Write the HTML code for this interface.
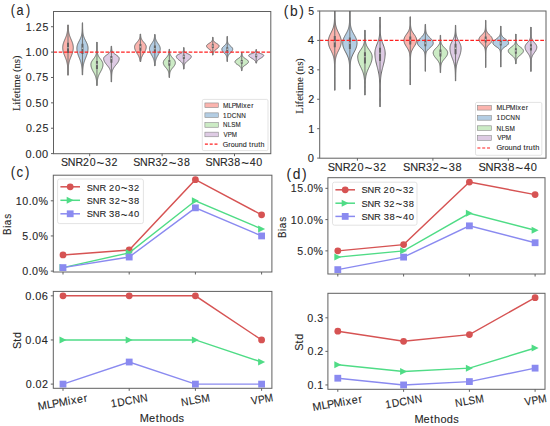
<!DOCTYPE html><html><head><meta charset="utf-8"><style>html,body{margin:0;padding:0;background:#fff;}svg{display:block;}</style></head><body><svg width="550" height="426" viewBox="0 0 550 426">
<rect width="550" height="426" fill="#ffffff"/>
<clipPath id="c53"><rect x="53.5" y="11.5" width="217.3" height="142.2"/></clipPath>
<g clip-path="url(#c53)">
<path d="M68.19,24.90 L68.20,25.53 L68.22,26.16 L68.24,26.79 L68.27,27.41 L68.30,28.04 L68.33,28.67 L68.38,29.30 L68.44,29.93 L68.50,30.56 L68.58,31.19 L68.67,31.82 L68.78,32.45 L68.91,33.07 L69.06,33.70 L69.22,34.33 L69.40,34.96 L69.60,35.59 L69.82,36.22 L70.05,36.85 L70.30,37.48 L70.56,38.10 L70.82,38.73 L71.09,39.36 L71.36,39.99 L71.63,40.62 L71.88,41.25 L72.13,41.88 L72.35,42.50 L72.56,43.13 L72.74,43.76 L72.90,44.39 L73.03,45.02 L73.13,45.65 L73.21,46.28 L73.26,46.91 L73.29,47.53 L73.28,48.16 L73.24,48.79 L73.18,49.42 L73.10,50.05 L72.99,50.68 L72.86,51.31 L72.71,51.94 L72.53,52.56 L72.33,53.19 L72.11,53.82 L71.88,54.45 L71.64,55.08 L71.38,55.71 L71.13,56.34 L70.87,56.97 L70.61,57.60 L70.36,58.22 L70.12,58.85 L69.90,59.48 L69.68,60.11 L69.48,60.74 L69.30,61.37 L69.14,62.00 L68.99,62.63 L68.86,63.25 L68.74,63.88 L68.64,64.51 L68.56,65.14 L68.49,65.77 L68.42,66.40 L68.37,67.03 L68.33,67.66 L68.29,68.28 L68.27,68.91 L68.24,69.54 L68.22,70.17 L68.21,70.80 L68.19,71.43 L68.18,72.06 L68.17,72.69 L68.16,73.31 L68.15,73.94 L68.15,74.57 L68.14,75.20 L67.86,75.20 L67.85,74.57 L67.85,73.94 L67.84,73.31 L67.83,72.69 L67.82,72.06 L67.81,71.43 L67.79,70.80 L67.78,70.17 L67.76,69.54 L67.73,68.91 L67.71,68.28 L67.67,67.66 L67.63,67.03 L67.58,66.40 L67.51,65.77 L67.44,65.14 L67.36,64.51 L67.26,63.88 L67.14,63.25 L67.01,62.63 L66.86,62.00 L66.70,61.37 L66.52,60.74 L66.32,60.11 L66.10,59.48 L65.88,58.85 L65.64,58.22 L65.39,57.60 L65.13,56.97 L64.87,56.34 L64.62,55.71 L64.36,55.08 L64.12,54.45 L63.89,53.82 L63.67,53.19 L63.47,52.56 L63.29,51.94 L63.14,51.31 L63.01,50.68 L62.90,50.05 L62.82,49.42 L62.76,48.79 L62.72,48.16 L62.71,47.53 L62.74,46.91 L62.79,46.28 L62.87,45.65 L62.97,45.02 L63.10,44.39 L63.26,43.76 L63.44,43.13 L63.65,42.50 L63.87,41.88 L64.12,41.25 L64.37,40.62 L64.64,39.99 L64.91,39.36 L65.18,38.73 L65.44,38.10 L65.70,37.48 L65.95,36.85 L66.18,36.22 L66.40,35.59 L66.60,34.96 L66.78,34.33 L66.94,33.70 L67.09,33.07 L67.22,32.45 L67.33,31.82 L67.42,31.19 L67.50,30.56 L67.56,29.93 L67.62,29.30 L67.67,28.67 L67.70,28.04 L67.73,27.41 L67.76,26.79 L67.78,26.16 L67.80,25.53 L67.81,24.90Z" fill="#fbb4ae" stroke="#6a6a6a" stroke-width="1.0"/>
<line x1="68.00" y1="24.90" x2="68.00" y2="75.20" stroke="#787878" stroke-width="1.05" />
<line x1="68.00" y1="42.68" x2="68.00" y2="52.94" stroke="#626262" stroke-width="2.0" />
<circle cx="68.00" cy="47.70" r="0.8" fill="#ffffff" fill-opacity="0.6"/>
<path d="M82.59,22.80 L82.59,23.45 L82.60,24.11 L82.61,24.76 L82.61,25.41 L82.62,26.06 L82.63,26.71 L82.64,27.37 L82.66,28.02 L82.67,28.67 L82.69,29.33 L82.72,29.98 L82.75,30.63 L82.79,31.28 L82.85,31.94 L82.91,32.59 L83.00,33.24 L83.10,33.89 L83.22,34.55 L83.37,35.20 L83.54,35.85 L83.74,36.50 L83.97,37.16 L84.22,37.81 L84.50,38.46 L84.80,39.11 L85.12,39.77 L85.45,40.42 L85.79,41.07 L86.12,41.72 L86.45,42.38 L86.75,43.03 L87.04,43.68 L87.29,44.33 L87.51,44.98 L87.70,45.64 L87.84,46.29 L87.95,46.94 L88.02,47.59 L88.06,48.25 L88.03,48.90 L87.99,49.55 L87.93,50.20 L87.84,50.86 L87.74,51.51 L87.60,52.16 L87.45,52.82 L87.27,53.47 L87.07,54.12 L86.85,54.77 L86.62,55.42 L86.37,56.08 L86.12,56.73 L85.85,57.38 L85.59,58.03 L85.33,58.69 L85.07,59.34 L84.83,59.99 L84.59,60.65 L84.36,61.30 L84.15,61.95 L83.95,62.60 L83.78,63.25 L83.61,63.91 L83.47,64.56 L83.34,65.21 L83.23,65.87 L83.13,66.52 L83.04,67.17 L82.97,67.82 L82.91,68.47 L82.85,69.13 L82.81,69.78 L82.77,70.43 L82.74,71.09 L82.72,71.74 L82.70,72.39 L82.68,73.04 L82.67,73.70 L82.65,74.35 L82.64,75.00 L82.28,75.00 L82.27,74.35 L82.25,73.70 L82.24,73.04 L82.22,72.39 L82.20,71.74 L82.18,71.09 L82.15,70.43 L82.11,69.78 L82.07,69.13 L82.01,68.47 L81.95,67.82 L81.88,67.17 L81.79,66.52 L81.69,65.87 L81.58,65.21 L81.45,64.56 L81.31,63.91 L81.14,63.25 L80.97,62.60 L80.77,61.95 L80.56,61.30 L80.33,60.65 L80.09,59.99 L79.85,59.34 L79.59,58.69 L79.33,58.03 L79.07,57.38 L78.80,56.73 L78.55,56.08 L78.30,55.42 L78.07,54.77 L77.85,54.12 L77.65,53.47 L77.47,52.82 L77.32,52.16 L77.18,51.51 L77.08,50.86 L76.99,50.20 L76.93,49.55 L76.89,48.90 L76.86,48.25 L76.90,47.59 L76.97,46.94 L77.08,46.29 L77.22,45.64 L77.41,44.98 L77.63,44.33 L77.88,43.68 L78.17,43.03 L78.47,42.38 L78.80,41.72 L79.13,41.07 L79.47,40.42 L79.80,39.77 L80.12,39.11 L80.42,38.46 L80.70,37.81 L80.95,37.16 L81.18,36.50 L81.38,35.85 L81.55,35.20 L81.70,34.55 L81.82,33.89 L81.92,33.24 L82.01,32.59 L82.07,31.94 L82.13,31.28 L82.17,30.63 L82.20,29.98 L82.23,29.33 L82.25,28.67 L82.26,28.02 L82.28,27.37 L82.29,26.71 L82.30,26.06 L82.31,25.41 L82.31,24.76 L82.32,24.11 L82.33,23.45 L82.33,22.80Z" fill="#b3cde3" stroke="#6a6a6a" stroke-width="1.0"/>
<line x1="82.46" y1="22.80" x2="82.46" y2="75.00" stroke="#787878" stroke-width="1.05" />
<line x1="82.46" y1="43.82" x2="82.46" y2="54.04" stroke="#626262" stroke-width="2.0" />
<circle cx="82.46" cy="48.30" r="0.8" fill="#ffffff" fill-opacity="0.6"/>
<path d="M97.04,42.10 L97.04,42.64 L97.05,43.19 L97.05,43.73 L97.06,44.27 L97.07,44.81 L97.07,45.36 L97.08,45.90 L97.09,46.44 L97.09,46.98 L97.10,47.52 L97.11,48.07 L97.12,48.61 L97.14,49.15 L97.16,49.70 L97.18,50.24 L97.21,50.78 L97.24,51.32 L97.29,51.87 L97.35,52.41 L97.43,52.95 L97.54,53.49 L97.67,54.03 L97.83,54.58 L98.03,55.12 L98.27,55.66 L98.54,56.20 L98.85,56.75 L99.20,57.29 L99.57,57.83 L99.97,58.38 L100.38,58.92 L100.80,59.46 L101.20,60.00 L101.58,60.55 L101.93,61.09 L102.23,61.63 L102.49,62.17 L102.69,62.72 L102.84,63.26 L102.93,63.80 L102.99,64.34 L102.96,64.89 L102.91,65.43 L102.84,65.97 L102.74,66.51 L102.62,67.06 L102.46,67.60 L102.28,68.14 L102.07,68.68 L101.84,69.22 L101.59,69.77 L101.32,70.31 L101.04,70.85 L100.75,71.39 L100.45,71.94 L100.16,72.48 L99.86,73.02 L99.58,73.56 L99.31,74.11 L99.05,74.65 L98.81,75.19 L98.59,75.73 L98.38,76.28 L98.20,76.82 L98.03,77.36 L97.89,77.91 L97.76,78.45 L97.65,78.99 L97.56,79.53 L97.48,80.08 L97.41,80.62 L97.35,81.16 L97.31,81.70 L97.27,82.25 L97.24,82.79 L97.21,83.33 L97.19,83.87 L97.17,84.41 L97.16,84.96 L97.14,85.50 L96.74,85.50 L96.72,84.96 L96.71,84.41 L96.69,83.87 L96.67,83.33 L96.64,82.79 L96.61,82.25 L96.57,81.70 L96.53,81.16 L96.47,80.62 L96.40,80.08 L96.32,79.53 L96.23,78.99 L96.12,78.45 L95.99,77.91 L95.85,77.36 L95.68,76.82 L95.50,76.28 L95.29,75.73 L95.07,75.19 L94.83,74.65 L94.57,74.11 L94.30,73.56 L94.02,73.02 L93.72,72.48 L93.43,71.94 L93.13,71.39 L92.84,70.85 L92.56,70.31 L92.29,69.77 L92.04,69.22 L91.81,68.68 L91.60,68.14 L91.42,67.60 L91.26,67.06 L91.14,66.51 L91.04,65.97 L90.97,65.43 L90.92,64.89 L90.89,64.34 L90.95,63.80 L91.04,63.26 L91.19,62.72 L91.39,62.17 L91.65,61.63 L91.95,61.09 L92.30,60.55 L92.68,60.00 L93.08,59.46 L93.50,58.92 L93.91,58.38 L94.31,57.83 L94.68,57.29 L95.03,56.75 L95.34,56.20 L95.61,55.66 L95.85,55.12 L96.05,54.58 L96.21,54.03 L96.34,53.49 L96.45,52.95 L96.53,52.41 L96.59,51.87 L96.64,51.32 L96.67,50.78 L96.70,50.24 L96.72,49.70 L96.74,49.15 L96.76,48.61 L96.77,48.07 L96.78,47.52 L96.79,46.98 L96.79,46.44 L96.80,45.90 L96.81,45.36 L96.81,44.81 L96.82,44.27 L96.83,43.73 L96.83,43.19 L96.84,42.64 L96.84,42.10Z" fill="#ccebc5" stroke="#6a6a6a" stroke-width="1.0"/>
<line x1="96.94" y1="42.10" x2="96.94" y2="85.50" stroke="#787878" stroke-width="1.05" />
<line x1="96.94" y1="61.06" x2="96.94" y2="69.07" stroke="#626262" stroke-width="2.0" />
<circle cx="96.94" cy="64.40" r="0.8" fill="#ffffff" fill-opacity="0.6"/>
<path d="M111.59,46.20 L111.60,46.65 L111.61,47.10 L111.63,47.54 L111.65,47.99 L111.68,48.44 L111.71,48.89 L111.76,49.33 L111.83,49.78 L111.92,50.23 L112.04,50.68 L112.21,51.12 L112.43,51.57 L112.71,52.02 L113.06,52.47 L113.49,52.91 L113.98,53.36 L114.54,53.81 L115.14,54.26 L115.78,54.70 L116.42,55.15 L117.04,55.60 L117.61,56.05 L118.11,56.49 L118.52,56.94 L118.84,57.39 L119.05,57.84 L119.17,58.28 L119.18,58.73 L119.13,59.18 L119.06,59.62 L118.95,60.07 L118.81,60.52 L118.64,60.97 L118.43,61.41 L118.20,61.86 L117.93,62.31 L117.63,62.76 L117.32,63.20 L116.98,63.65 L116.63,64.10 L116.27,64.55 L115.90,65.00 L115.53,65.44 L115.17,65.89 L114.82,66.34 L114.48,66.78 L114.16,67.23 L113.86,67.68 L113.58,68.13 L113.32,68.58 L113.08,69.02 L112.87,69.47 L112.68,69.92 L112.52,70.37 L112.37,70.81 L112.25,71.26 L112.14,71.71 L112.05,72.16 L111.97,72.60 L111.91,73.05 L111.85,73.50 L111.81,73.94 L111.77,74.39 L111.74,74.84 L111.71,75.29 L111.69,75.73 L111.67,76.18 L111.66,76.63 L111.65,77.08 L111.63,77.53 L111.62,77.97 L111.62,78.42 L111.61,78.87 L111.60,79.31 L111.59,79.76 L111.59,80.21 L111.58,80.66 L111.57,81.10 L111.57,81.55 L111.56,82.00 L111.24,82.00 L111.23,81.55 L111.23,81.10 L111.22,80.66 L111.21,80.21 L111.21,79.76 L111.20,79.31 L111.19,78.87 L111.18,78.42 L111.18,77.97 L111.17,77.53 L111.15,77.08 L111.14,76.63 L111.13,76.18 L111.11,75.73 L111.09,75.29 L111.06,74.84 L111.03,74.39 L110.99,73.94 L110.95,73.50 L110.89,73.05 L110.83,72.60 L110.75,72.16 L110.66,71.71 L110.55,71.26 L110.43,70.81 L110.28,70.37 L110.12,69.92 L109.93,69.47 L109.72,69.02 L109.48,68.58 L109.22,68.13 L108.94,67.68 L108.64,67.23 L108.32,66.78 L107.98,66.34 L107.63,65.89 L107.27,65.44 L106.90,65.00 L106.53,64.55 L106.17,64.10 L105.82,63.65 L105.48,63.20 L105.17,62.76 L104.87,62.31 L104.60,61.86 L104.37,61.41 L104.16,60.97 L103.99,60.52 L103.85,60.07 L103.74,59.62 L103.67,59.18 L103.62,58.73 L103.63,58.28 L103.75,57.84 L103.96,57.39 L104.28,56.94 L104.69,56.49 L105.19,56.05 L105.76,55.60 L106.38,55.15 L107.02,54.70 L107.66,54.26 L108.26,53.81 L108.82,53.36 L109.31,52.91 L109.74,52.47 L110.09,52.02 L110.37,51.57 L110.59,51.12 L110.76,50.68 L110.88,50.23 L110.97,49.78 L111.04,49.33 L111.09,48.89 L111.12,48.44 L111.15,47.99 L111.17,47.54 L111.19,47.10 L111.20,46.65 L111.21,46.20Z" fill="#decbe4" stroke="#6a6a6a" stroke-width="1.0"/>
<line x1="111.40" y1="46.20" x2="111.40" y2="82.00" stroke="#787878" stroke-width="1.05" />
<line x1="111.40" y1="56.07" x2="111.40" y2="62.76" stroke="#626262" stroke-width="2.0" />
<circle cx="111.40" cy="58.50" r="0.8" fill="#ffffff" fill-opacity="0.6"/>
<path d="M140.60,34.00 L140.61,34.34 L140.63,34.69 L140.65,35.03 L140.67,35.38 L140.70,35.72 L140.73,36.06 L140.77,36.41 L140.82,36.75 L140.89,37.09 L140.96,37.44 L141.05,37.78 L141.15,38.12 L141.27,38.47 L141.41,38.81 L141.57,39.16 L141.74,39.50 L141.94,39.84 L142.16,40.19 L142.40,40.53 L142.65,40.88 L142.92,41.22 L143.20,41.56 L143.49,41.91 L143.78,42.25 L144.08,42.59 L144.37,42.94 L144.65,43.28 L144.91,43.62 L145.16,43.97 L145.39,44.31 L145.59,44.66 L145.77,45.00 L145.92,45.34 L146.04,45.69 L146.13,46.03 L146.19,46.38 L146.24,46.72 L146.24,47.06 L146.22,47.41 L146.18,47.75 L146.13,48.09 L146.07,48.44 L145.99,48.78 L145.89,49.12 L145.78,49.47 L145.66,49.81 L145.52,50.16 L145.37,50.50 L145.20,50.84 L145.03,51.19 L144.84,51.53 L144.64,51.88 L144.44,52.22 L144.23,52.56 L144.02,52.91 L143.81,53.25 L143.59,53.59 L143.38,53.94 L143.17,54.28 L142.96,54.62 L142.77,54.97 L142.57,55.31 L142.39,55.66 L142.22,56.00 L142.05,56.34 L141.90,56.69 L141.76,57.03 L141.62,57.38 L141.50,57.72 L141.39,58.06 L141.29,58.41 L141.20,58.75 L141.12,59.09 L141.04,59.44 L140.98,59.78 L140.92,60.12 L140.87,60.47 L140.83,60.81 L140.79,61.16 L140.76,61.50 L140.04,61.50 L140.01,61.16 L139.97,60.81 L139.93,60.47 L139.88,60.12 L139.82,59.78 L139.76,59.44 L139.68,59.09 L139.60,58.75 L139.51,58.41 L139.41,58.06 L139.30,57.72 L139.18,57.38 L139.04,57.03 L138.90,56.69 L138.75,56.34 L138.58,56.00 L138.41,55.66 L138.23,55.31 L138.03,54.97 L137.84,54.62 L137.63,54.28 L137.42,53.94 L137.21,53.59 L136.99,53.25 L136.78,52.91 L136.57,52.56 L136.36,52.22 L136.16,51.88 L135.96,51.53 L135.77,51.19 L135.60,50.84 L135.43,50.50 L135.28,50.16 L135.14,49.81 L135.02,49.47 L134.91,49.12 L134.81,48.78 L134.73,48.44 L134.67,48.09 L134.62,47.75 L134.58,47.41 L134.56,47.06 L134.56,46.72 L134.61,46.38 L134.67,46.03 L134.76,45.69 L134.88,45.34 L135.03,45.00 L135.21,44.66 L135.41,44.31 L135.64,43.97 L135.89,43.62 L136.15,43.28 L136.43,42.94 L136.72,42.59 L137.02,42.25 L137.31,41.91 L137.60,41.56 L137.88,41.22 L138.15,40.88 L138.40,40.53 L138.64,40.19 L138.86,39.84 L139.06,39.50 L139.23,39.16 L139.39,38.81 L139.53,38.47 L139.65,38.12 L139.75,37.78 L139.84,37.44 L139.91,37.09 L139.98,36.75 L140.03,36.41 L140.07,36.06 L140.10,35.72 L140.13,35.38 L140.15,35.03 L140.17,34.69 L140.19,34.34 L140.20,34.00Z" fill="#fbb4ae" stroke="#6a6a6a" stroke-width="1.0"/>
<line x1="140.40" y1="34.00" x2="140.40" y2="61.50" stroke="#787878" stroke-width="1.05" />
<line x1="140.40" y1="44.05" x2="140.40" y2="50.81" stroke="#626262" stroke-width="2.0" />
<circle cx="140.40" cy="46.90" r="0.8" fill="#ffffff" fill-opacity="0.6"/>
<path d="M155.06,34.50 L155.08,34.89 L155.10,35.28 L155.12,35.67 L155.15,36.06 L155.18,36.46 L155.23,36.85 L155.28,37.24 L155.34,37.63 L155.41,38.02 L155.50,38.41 L155.60,38.80 L155.71,39.20 L155.84,39.59 L155.99,39.98 L156.16,40.37 L156.35,40.76 L156.55,41.15 L156.77,41.54 L157.00,41.93 L157.25,42.33 L157.51,42.72 L157.77,43.11 L158.04,43.50 L158.31,43.89 L158.57,44.28 L158.82,44.67 L159.06,45.06 L159.28,45.45 L159.49,45.85 L159.67,46.24 L159.83,46.63 L159.96,47.02 L160.07,47.41 L160.15,47.80 L160.21,48.19 L160.25,48.59 L160.25,48.98 L160.22,49.37 L160.18,49.76 L160.13,50.15 L160.05,50.54 L159.96,50.93 L159.85,51.32 L159.73,51.71 L159.58,52.11 L159.42,52.50 L159.25,52.89 L159.06,53.28 L158.86,53.67 L158.65,54.06 L158.44,54.45 L158.22,54.84 L158.00,55.24 L157.77,55.63 L157.55,56.02 L157.34,56.41 L157.13,56.80 L156.93,57.19 L156.73,57.58 L156.55,57.97 L156.38,58.37 L156.22,58.76 L156.08,59.15 L155.94,59.54 L155.82,59.93 L155.71,60.32 L155.61,60.71 L155.53,61.10 L155.45,61.50 L155.39,61.89 L155.33,62.28 L155.28,62.67 L155.23,63.06 L155.20,63.45 L155.17,63.84 L155.14,64.23 L155.12,64.63 L155.10,65.02 L155.08,65.41 L155.07,65.80 L154.65,65.80 L154.64,65.41 L154.62,65.02 L154.60,64.63 L154.58,64.23 L154.55,63.84 L154.52,63.45 L154.49,63.06 L154.44,62.67 L154.39,62.28 L154.33,61.89 L154.27,61.50 L154.19,61.10 L154.11,60.71 L154.01,60.32 L153.90,59.93 L153.78,59.54 L153.64,59.15 L153.50,58.76 L153.34,58.37 L153.17,57.97 L152.99,57.58 L152.79,57.19 L152.59,56.80 L152.38,56.41 L152.17,56.02 L151.95,55.63 L151.72,55.24 L151.50,54.84 L151.28,54.45 L151.07,54.06 L150.86,53.67 L150.66,53.28 L150.47,52.89 L150.30,52.50 L150.14,52.11 L149.99,51.71 L149.87,51.32 L149.76,50.93 L149.67,50.54 L149.59,50.15 L149.54,49.76 L149.50,49.37 L149.47,48.98 L149.47,48.59 L149.51,48.19 L149.57,47.80 L149.65,47.41 L149.76,47.02 L149.89,46.63 L150.05,46.24 L150.23,45.85 L150.44,45.45 L150.66,45.06 L150.90,44.67 L151.15,44.28 L151.41,43.89 L151.68,43.50 L151.95,43.11 L152.21,42.72 L152.47,42.33 L152.72,41.93 L152.95,41.54 L153.17,41.15 L153.37,40.76 L153.56,40.37 L153.73,39.98 L153.88,39.59 L154.01,39.20 L154.12,38.80 L154.22,38.41 L154.31,38.02 L154.38,37.63 L154.44,37.24 L154.49,36.85 L154.54,36.46 L154.57,36.06 L154.60,35.67 L154.62,35.28 L154.64,34.89 L154.66,34.50Z" fill="#b3cde3" stroke="#6a6a6a" stroke-width="1.0"/>
<line x1="154.86" y1="34.50" x2="154.86" y2="65.80" stroke="#787878" stroke-width="1.05" />
<line x1="154.86" y1="45.57" x2="154.86" y2="52.68" stroke="#626262" stroke-width="2.0" />
<circle cx="154.86" cy="48.80" r="0.8" fill="#ffffff" fill-opacity="0.6"/>
<path d="M169.52,49.30 L169.53,49.65 L169.54,50.00 L169.56,50.36 L169.57,50.71 L169.59,51.06 L169.62,51.41 L169.65,51.77 L169.69,52.12 L169.73,52.47 L169.79,52.82 L169.86,53.18 L169.94,53.53 L170.04,53.88 L170.16,54.23 L170.29,54.59 L170.45,54.94 L170.63,55.29 L170.84,55.64 L171.07,56.00 L171.31,56.35 L171.58,56.70 L171.87,57.05 L172.17,57.41 L172.49,57.76 L172.80,58.11 L173.12,58.46 L173.44,58.82 L173.74,59.17 L174.03,59.52 L174.30,59.88 L174.54,60.23 L174.76,60.58 L174.94,60.93 L175.09,61.28 L175.21,61.64 L175.30,61.99 L175.35,62.34 L175.39,62.70 L175.36,63.05 L175.31,63.40 L175.23,63.75 L175.13,64.11 L175.00,64.46 L174.85,64.81 L174.66,65.16 L174.45,65.52 L174.22,65.87 L173.97,66.22 L173.70,66.57 L173.41,66.92 L173.12,67.28 L172.83,67.63 L172.53,67.98 L172.24,68.34 L171.96,68.69 L171.69,69.04 L171.43,69.39 L171.19,69.75 L170.97,70.10 L170.77,70.45 L170.59,70.80 L170.42,71.16 L170.28,71.51 L170.15,71.86 L170.04,72.21 L169.95,72.56 L169.87,72.92 L169.81,73.27 L169.75,73.62 L169.70,73.97 L169.67,74.33 L169.63,74.68 L169.61,75.03 L169.59,75.38 L169.57,75.74 L169.55,76.09 L169.54,76.44 L169.53,76.80 L169.52,77.15 L169.51,77.50 L169.17,77.50 L169.16,77.15 L169.15,76.80 L169.14,76.44 L169.13,76.09 L169.11,75.74 L169.09,75.38 L169.07,75.03 L169.05,74.68 L169.01,74.33 L168.98,73.97 L168.93,73.62 L168.87,73.27 L168.81,72.92 L168.73,72.56 L168.64,72.21 L168.53,71.86 L168.40,71.51 L168.26,71.16 L168.09,70.80 L167.91,70.45 L167.71,70.10 L167.49,69.75 L167.25,69.39 L166.99,69.04 L166.72,68.69 L166.44,68.34 L166.15,67.98 L165.85,67.63 L165.56,67.28 L165.27,66.92 L164.98,66.57 L164.71,66.22 L164.46,65.87 L164.23,65.52 L164.02,65.16 L163.83,64.81 L163.68,64.46 L163.55,64.11 L163.45,63.75 L163.37,63.40 L163.32,63.05 L163.29,62.70 L163.33,62.34 L163.38,61.99 L163.47,61.64 L163.59,61.28 L163.74,60.93 L163.92,60.58 L164.14,60.23 L164.38,59.88 L164.65,59.52 L164.94,59.17 L165.24,58.82 L165.56,58.46 L165.88,58.11 L166.19,57.76 L166.51,57.41 L166.81,57.05 L167.10,56.70 L167.37,56.35 L167.61,56.00 L167.84,55.64 L168.05,55.29 L168.23,54.94 L168.39,54.59 L168.52,54.23 L168.64,53.88 L168.74,53.53 L168.82,53.18 L168.89,52.82 L168.95,52.47 L168.99,52.12 L169.03,51.77 L169.06,51.41 L169.09,51.06 L169.11,50.71 L169.12,50.36 L169.14,50.00 L169.15,49.65 L169.16,49.30Z" fill="#ccebc5" stroke="#6a6a6a" stroke-width="1.0"/>
<line x1="169.34" y1="49.30" x2="169.34" y2="77.50" stroke="#787878" stroke-width="1.05" />
<line x1="169.34" y1="59.89" x2="169.34" y2="65.74" stroke="#626262" stroke-width="2.0" />
<circle cx="169.34" cy="62.70" r="0.8" fill="#ffffff" fill-opacity="0.6"/>
<path d="M183.96,47.60 L183.97,47.87 L183.98,48.14 L183.99,48.41 L184.00,48.68 L184.01,48.94 L184.03,49.21 L184.04,49.48 L184.07,49.75 L184.10,50.02 L184.14,50.29 L184.19,50.56 L184.27,50.83 L184.36,51.09 L184.49,51.36 L184.66,51.63 L184.87,51.90 L185.13,52.17 L185.44,52.44 L185.82,52.71 L186.24,52.98 L186.72,53.24 L187.24,53.51 L187.79,53.78 L188.35,54.05 L188.90,54.32 L189.43,54.59 L189.91,54.86 L190.33,55.12 L190.68,55.39 L190.95,55.66 L191.14,55.93 L191.25,56.20 L191.29,56.47 L191.25,56.74 L191.19,57.01 L191.10,57.27 L190.98,57.54 L190.84,57.81 L190.66,58.08 L190.45,58.35 L190.22,58.62 L189.96,58.89 L189.68,59.16 L189.37,59.42 L189.05,59.69 L188.72,59.96 L188.39,60.23 L188.05,60.50 L187.71,60.77 L187.37,61.04 L187.05,61.31 L186.73,61.57 L186.44,61.84 L186.16,62.11 L185.90,62.38 L185.66,62.65 L185.44,62.92 L185.24,63.19 L185.06,63.46 L184.90,63.72 L184.76,63.99 L184.64,64.26 L184.54,64.53 L184.45,64.80 L184.37,65.07 L184.31,65.34 L184.26,65.61 L184.21,65.88 L184.17,66.14 L184.14,66.41 L184.12,66.68 L184.09,66.95 L184.07,67.22 L184.06,67.49 L184.05,67.76 L184.03,68.02 L184.02,68.29 L184.01,68.56 L184.01,68.83 L184.00,69.10 L183.60,69.10 L183.59,68.83 L183.59,68.56 L183.58,68.29 L183.57,68.02 L183.55,67.76 L183.54,67.49 L183.53,67.22 L183.51,66.95 L183.48,66.68 L183.46,66.41 L183.43,66.14 L183.39,65.88 L183.34,65.61 L183.29,65.34 L183.23,65.07 L183.15,64.80 L183.06,64.53 L182.96,64.26 L182.84,63.99 L182.70,63.72 L182.54,63.46 L182.36,63.19 L182.16,62.92 L181.94,62.65 L181.70,62.38 L181.44,62.11 L181.16,61.84 L180.87,61.57 L180.55,61.31 L180.23,61.04 L179.89,60.77 L179.55,60.50 L179.21,60.23 L178.88,59.96 L178.55,59.69 L178.23,59.42 L177.92,59.16 L177.64,58.89 L177.38,58.62 L177.15,58.35 L176.94,58.08 L176.76,57.81 L176.62,57.54 L176.50,57.27 L176.41,57.01 L176.35,56.74 L176.31,56.47 L176.35,56.20 L176.46,55.93 L176.65,55.66 L176.92,55.39 L177.27,55.12 L177.69,54.86 L178.17,54.59 L178.70,54.32 L179.25,54.05 L179.81,53.78 L180.36,53.51 L180.88,53.24 L181.36,52.98 L181.78,52.71 L182.16,52.44 L182.47,52.17 L182.73,51.90 L182.94,51.63 L183.11,51.36 L183.24,51.09 L183.33,50.83 L183.41,50.56 L183.46,50.29 L183.50,50.02 L183.53,49.75 L183.56,49.48 L183.57,49.21 L183.59,48.94 L183.60,48.68 L183.61,48.41 L183.62,48.14 L183.63,47.87 L183.64,47.60Z" fill="#decbe4" stroke="#6a6a6a" stroke-width="1.0"/>
<line x1="183.80" y1="47.60" x2="183.80" y2="69.10" stroke="#787878" stroke-width="1.05" />
<line x1="183.80" y1="54.80" x2="183.80" y2="59.02" stroke="#626262" stroke-width="2.0" />
<circle cx="183.80" cy="56.40" r="0.8" fill="#ffffff" fill-opacity="0.6"/>
<path d="M212.95,37.20 L212.96,37.42 L212.97,37.65 L212.98,37.87 L212.99,38.10 L213.00,38.32 L213.01,38.54 L213.03,38.77 L213.05,38.99 L213.07,39.21 L213.10,39.44 L213.14,39.66 L213.18,39.89 L213.24,40.11 L213.31,40.33 L213.40,40.56 L213.51,40.78 L213.64,41.00 L213.79,41.23 L213.97,41.45 L214.18,41.68 L214.42,41.90 L214.68,42.12 L214.97,42.35 L215.28,42.57 L215.61,42.79 L215.96,43.02 L216.31,43.24 L216.67,43.47 L217.03,43.69 L217.37,43.91 L217.69,44.14 L217.99,44.36 L218.26,44.58 L218.49,44.81 L218.69,45.03 L218.84,45.26 L218.96,45.48 L219.04,45.70 L219.09,45.93 L219.08,46.15 L219.04,46.37 L218.97,46.60 L218.87,46.82 L218.75,47.05 L218.60,47.27 L218.42,47.49 L218.22,47.72 L217.99,47.94 L217.74,48.16 L217.47,48.39 L217.18,48.61 L216.89,48.84 L216.59,49.06 L216.28,49.28 L215.98,49.51 L215.69,49.73 L215.40,49.95 L215.13,50.18 L214.87,50.40 L214.63,50.62 L214.41,50.85 L214.21,51.07 L214.03,51.30 L213.87,51.52 L213.73,51.74 L213.61,51.97 L213.50,52.19 L213.41,52.41 L213.33,52.64 L213.27,52.86 L213.21,53.09 L213.17,53.31 L213.13,53.53 L213.10,53.76 L213.07,53.98 L213.05,54.20 L213.04,54.43 L213.02,54.65 L213.01,54.88 L213.00,55.10 L212.60,55.10 L212.59,54.88 L212.58,54.65 L212.56,54.43 L212.55,54.20 L212.53,53.98 L212.50,53.76 L212.47,53.53 L212.43,53.31 L212.39,53.09 L212.33,52.86 L212.27,52.64 L212.19,52.41 L212.10,52.19 L211.99,51.97 L211.87,51.74 L211.73,51.52 L211.57,51.30 L211.39,51.07 L211.19,50.85 L210.97,50.62 L210.73,50.40 L210.47,50.18 L210.20,49.95 L209.91,49.73 L209.62,49.51 L209.32,49.28 L209.01,49.06 L208.71,48.84 L208.42,48.61 L208.13,48.39 L207.86,48.16 L207.61,47.94 L207.38,47.72 L207.18,47.49 L207.00,47.27 L206.85,47.05 L206.73,46.82 L206.63,46.60 L206.56,46.37 L206.52,46.15 L206.51,45.93 L206.56,45.70 L206.64,45.48 L206.76,45.26 L206.91,45.03 L207.11,44.81 L207.34,44.58 L207.61,44.36 L207.91,44.14 L208.23,43.91 L208.57,43.69 L208.93,43.47 L209.29,43.24 L209.64,43.02 L209.99,42.79 L210.32,42.57 L210.63,42.35 L210.92,42.12 L211.18,41.90 L211.42,41.68 L211.63,41.45 L211.81,41.23 L211.96,41.00 L212.09,40.78 L212.20,40.56 L212.29,40.33 L212.36,40.11 L212.42,39.89 L212.46,39.66 L212.50,39.44 L212.53,39.21 L212.55,38.99 L212.57,38.77 L212.59,38.54 L212.60,38.32 L212.61,38.10 L212.62,37.87 L212.63,37.65 L212.64,37.42 L212.65,37.20Z" fill="#fbb4ae" stroke="#6a6a6a" stroke-width="1.0"/>
<line x1="212.80" y1="37.20" x2="212.80" y2="55.10" stroke="#787878" stroke-width="1.05" />
<line x1="212.80" y1="44.33" x2="212.80" y2="47.98" stroke="#626262" stroke-width="2.0" />
<circle cx="212.80" cy="46.00" r="0.8" fill="#ffffff" fill-opacity="0.6"/>
<path d="M227.36,36.40 L227.36,36.71 L227.37,37.03 L227.37,37.34 L227.38,37.66 L227.39,37.97 L227.39,38.28 L227.40,38.60 L227.41,38.91 L227.41,39.22 L227.42,39.54 L227.43,39.85 L227.45,40.16 L227.47,40.48 L227.49,40.79 L227.52,41.11 L227.55,41.42 L227.60,41.73 L227.66,42.05 L227.74,42.36 L227.83,42.67 L227.95,42.99 L228.10,43.30 L228.28,43.62 L228.48,43.93 L228.72,44.24 L228.99,44.56 L229.28,44.87 L229.61,45.19 L229.95,45.50 L230.30,45.81 L230.65,46.13 L231.00,46.44 L231.33,46.75 L231.64,47.07 L231.92,47.38 L232.16,47.70 L232.35,48.01 L232.50,48.32 L232.61,48.64 L232.68,48.95 L232.70,49.26 L232.66,49.58 L232.60,49.89 L232.50,50.20 L232.37,50.52 L232.20,50.83 L232.00,51.15 L231.77,51.46 L231.51,51.77 L231.23,52.09 L230.93,52.40 L230.62,52.72 L230.31,53.03 L230.00,53.34 L229.70,53.66 L229.41,53.97 L229.14,54.28 L228.89,54.60 L228.66,54.91 L228.45,55.22 L228.27,55.54 L228.12,55.85 L227.98,56.17 L227.87,56.48 L227.78,56.79 L227.70,57.11 L227.64,57.42 L227.59,57.73 L227.55,58.05 L227.52,58.36 L227.49,58.68 L227.47,58.99 L227.46,59.30 L227.44,59.62 L227.43,59.93 L227.42,60.25 L227.41,60.56 L227.41,60.87 L227.40,61.19 L227.39,61.50 L227.13,61.50 L227.12,61.19 L227.11,60.87 L227.11,60.56 L227.10,60.25 L227.09,59.93 L227.08,59.62 L227.06,59.30 L227.05,58.99 L227.03,58.68 L227.00,58.36 L226.97,58.05 L226.93,57.73 L226.88,57.42 L226.82,57.11 L226.74,56.79 L226.65,56.48 L226.54,56.17 L226.40,55.85 L226.25,55.54 L226.07,55.22 L225.86,54.91 L225.63,54.60 L225.38,54.28 L225.11,53.97 L224.82,53.66 L224.52,53.34 L224.21,53.03 L223.90,52.72 L223.59,52.40 L223.29,52.09 L223.01,51.77 L222.75,51.46 L222.52,51.15 L222.32,50.83 L222.15,50.52 L222.02,50.20 L221.92,49.89 L221.86,49.58 L221.82,49.26 L221.84,48.95 L221.91,48.64 L222.02,48.32 L222.17,48.01 L222.36,47.70 L222.60,47.38 L222.88,47.07 L223.19,46.75 L223.52,46.44 L223.87,46.13 L224.22,45.81 L224.57,45.50 L224.91,45.19 L225.24,44.87 L225.53,44.56 L225.80,44.24 L226.04,43.93 L226.24,43.62 L226.42,43.30 L226.57,42.99 L226.69,42.67 L226.78,42.36 L226.86,42.05 L226.92,41.73 L226.97,41.42 L227.00,41.11 L227.03,40.79 L227.05,40.48 L227.07,40.16 L227.09,39.85 L227.10,39.54 L227.11,39.22 L227.11,38.91 L227.12,38.60 L227.13,38.28 L227.13,37.97 L227.14,37.66 L227.15,37.34 L227.15,37.03 L227.16,36.71 L227.16,36.40Z" fill="#b3cde3" stroke="#6a6a6a" stroke-width="1.0"/>
<line x1="227.26" y1="36.40" x2="227.26" y2="61.50" stroke="#787878" stroke-width="1.05" />
<line x1="227.26" y1="47.22" x2="227.26" y2="51.44" stroke="#626262" stroke-width="2.0" />
<circle cx="227.26" cy="49.20" r="0.8" fill="#ffffff" fill-opacity="0.6"/>
<path d="M241.93,52.60 L241.93,52.83 L241.94,53.05 L241.96,53.28 L241.97,53.51 L241.98,53.73 L242.00,53.96 L242.03,54.18 L242.05,54.41 L242.09,54.64 L242.13,54.86 L242.18,55.09 L242.24,55.32 L242.32,55.54 L242.41,55.77 L242.52,55.99 L242.64,56.22 L242.79,56.45 L242.96,56.67 L243.16,56.90 L243.38,57.12 L243.62,57.35 L243.89,57.58 L244.17,57.80 L244.48,58.03 L244.81,58.26 L245.14,58.48 L245.49,58.71 L245.84,58.94 L246.18,59.16 L246.52,59.39 L246.84,59.61 L247.14,59.84 L247.42,60.07 L247.67,60.29 L247.89,60.52 L248.07,60.75 L248.22,60.97 L248.33,61.20 L248.41,61.42 L248.47,61.65 L248.48,61.88 L248.44,62.10 L248.37,62.33 L248.27,62.56 L248.13,62.78 L247.97,63.01 L247.77,63.23 L247.54,63.46 L247.28,63.69 L247.00,63.91 L246.69,64.14 L246.37,64.37 L246.03,64.59 L245.69,64.82 L245.35,65.04 L245.02,65.27 L244.69,65.50 L244.38,65.72 L244.08,65.95 L243.80,66.17 L243.55,66.40 L243.32,66.63 L243.11,66.85 L242.92,67.08 L242.76,67.31 L242.62,67.53 L242.50,67.76 L242.39,67.98 L242.31,68.21 L242.24,68.44 L242.18,68.66 L242.13,68.89 L242.09,69.12 L242.05,69.34 L242.03,69.57 L242.00,69.80 L241.99,70.02 L241.97,70.25 L241.96,70.47 L241.95,70.70 L241.53,70.70 L241.52,70.47 L241.51,70.25 L241.49,70.02 L241.48,69.80 L241.45,69.57 L241.43,69.34 L241.39,69.12 L241.35,68.89 L241.30,68.66 L241.24,68.44 L241.17,68.21 L241.09,67.98 L240.98,67.76 L240.86,67.53 L240.72,67.31 L240.56,67.08 L240.37,66.85 L240.16,66.63 L239.93,66.40 L239.68,66.17 L239.40,65.95 L239.10,65.72 L238.79,65.50 L238.46,65.27 L238.13,65.04 L237.79,64.82 L237.45,64.59 L237.11,64.37 L236.79,64.14 L236.48,63.91 L236.20,63.69 L235.94,63.46 L235.71,63.23 L235.51,63.01 L235.35,62.78 L235.21,62.56 L235.11,62.33 L235.04,62.10 L235.00,61.88 L235.01,61.65 L235.07,61.42 L235.15,61.20 L235.26,60.97 L235.41,60.75 L235.59,60.52 L235.81,60.29 L236.06,60.07 L236.34,59.84 L236.64,59.61 L236.96,59.39 L237.30,59.16 L237.64,58.94 L237.99,58.71 L238.34,58.48 L238.67,58.26 L239.00,58.03 L239.31,57.80 L239.59,57.58 L239.86,57.35 L240.10,57.12 L240.32,56.90 L240.52,56.67 L240.69,56.45 L240.84,56.22 L240.96,55.99 L241.07,55.77 L241.16,55.54 L241.24,55.32 L241.30,55.09 L241.35,54.86 L241.39,54.64 L241.43,54.41 L241.45,54.18 L241.48,53.96 L241.50,53.73 L241.51,53.51 L241.52,53.28 L241.54,53.05 L241.55,52.83 L241.55,52.60Z" fill="#ccebc5" stroke="#6a6a6a" stroke-width="1.0"/>
<line x1="241.74" y1="52.60" x2="241.74" y2="70.70" stroke="#787878" stroke-width="1.05" />
<line x1="241.74" y1="59.90" x2="241.74" y2="63.74" stroke="#626262" stroke-width="2.0" />
<circle cx="241.74" cy="61.80" r="0.8" fill="#ffffff" fill-opacity="0.6"/>
<path d="M256.39,49.60 L256.40,49.77 L256.41,49.94 L256.42,50.11 L256.44,50.27 L256.45,50.44 L256.48,50.61 L256.51,50.78 L256.54,50.95 L256.59,51.12 L256.65,51.29 L256.73,51.46 L256.83,51.62 L256.96,51.79 L257.13,51.96 L257.32,52.13 L257.56,52.30 L257.84,52.47 L258.17,52.64 L258.53,52.81 L258.94,52.98 L259.38,53.14 L259.85,53.31 L260.34,53.48 L260.83,53.65 L261.32,53.82 L261.78,53.99 L262.21,54.16 L262.60,54.33 L262.93,54.49 L263.20,54.66 L263.42,54.83 L263.57,55.00 L263.66,55.17 L263.69,55.34 L263.66,55.51 L263.62,55.68 L263.56,55.84 L263.47,56.01 L263.37,56.18 L263.25,56.35 L263.11,56.52 L262.94,56.69 L262.76,56.86 L262.55,57.02 L262.33,57.19 L262.10,57.36 L261.85,57.53 L261.59,57.70 L261.31,57.87 L261.04,58.04 L260.75,58.21 L260.47,58.38 L260.19,58.54 L259.91,58.71 L259.63,58.88 L259.36,59.05 L259.11,59.22 L258.86,59.39 L258.62,59.56 L258.40,59.73 L258.19,59.89 L258.00,60.06 L257.82,60.23 L257.65,60.40 L257.50,60.57 L257.36,60.74 L257.24,60.91 L257.13,61.08 L257.03,61.24 L256.95,61.41 L256.87,61.58 L256.80,61.75 L256.75,61.92 L256.70,62.09 L256.65,62.26 L256.61,62.42 L256.58,62.59 L256.55,62.76 L256.53,62.93 L256.51,63.10 L255.89,63.10 L255.87,62.93 L255.85,62.76 L255.82,62.59 L255.79,62.42 L255.75,62.26 L255.70,62.09 L255.65,61.92 L255.60,61.75 L255.53,61.58 L255.45,61.41 L255.37,61.24 L255.27,61.08 L255.16,60.91 L255.04,60.74 L254.90,60.57 L254.75,60.40 L254.58,60.23 L254.40,60.06 L254.21,59.89 L254.00,59.73 L253.78,59.56 L253.54,59.39 L253.29,59.22 L253.04,59.05 L252.77,58.88 L252.49,58.71 L252.21,58.54 L251.93,58.38 L251.65,58.21 L251.36,58.04 L251.09,57.87 L250.81,57.70 L250.55,57.53 L250.30,57.36 L250.07,57.19 L249.85,57.02 L249.64,56.86 L249.46,56.69 L249.29,56.52 L249.15,56.35 L249.03,56.18 L248.93,56.01 L248.84,55.84 L248.78,55.68 L248.74,55.51 L248.71,55.34 L248.74,55.17 L248.83,55.00 L248.98,54.83 L249.20,54.66 L249.47,54.49 L249.80,54.33 L250.19,54.16 L250.62,53.99 L251.08,53.82 L251.57,53.65 L252.06,53.48 L252.55,53.31 L253.02,53.14 L253.46,52.98 L253.87,52.81 L254.23,52.64 L254.56,52.47 L254.84,52.30 L255.08,52.13 L255.27,51.96 L255.44,51.79 L255.57,51.62 L255.67,51.46 L255.75,51.29 L255.81,51.12 L255.86,50.95 L255.89,50.78 L255.92,50.61 L255.95,50.44 L255.96,50.27 L255.98,50.11 L255.99,49.94 L256.00,49.77 L256.01,49.60Z" fill="#decbe4" stroke="#6a6a6a" stroke-width="1.0"/>
<line x1="256.20" y1="49.60" x2="256.20" y2="63.10" stroke="#787878" stroke-width="1.05" />
<line x1="256.20" y1="54.16" x2="256.20" y2="57.28" stroke="#626262" stroke-width="2.0" />
<circle cx="256.20" cy="55.30" r="0.8" fill="#ffffff" fill-opacity="0.6"/>
</g>
<line x1="53.50" y1="52.10" x2="270.80" y2="52.10" stroke="#ff2020" stroke-width="1.25" stroke-dasharray="3.6,1.6"/>
<rect x="202.3" y="99.4" width="65.69999999999999" height="51.19999999999999" rx="1.5" fill="#ffffff" fill-opacity="0.85" stroke="#dcdcdc" stroke-width="0.8"/>
<rect x="204.9" y="102.96" width="13.400000000000006" height="4.6" fill="#fbb4ae" stroke="#8a8a8a" stroke-width="0.6"/>
<g transform="translate(222.87 107.60)"><text transform="scale(0.9541 1)" x="0.02 5.88 9.36 13.59 19.52 21.46 25.35 29.68" y="0" font-size="6.91" font-family='"Liberation Sans", sans-serif' fill="#262626" stroke="#262626" stroke-width="0.105">MLPMixer</text></g>
<rect x="204.9" y="112.86" width="13.400000000000006" height="4.6" fill="#b3cde3" stroke="#8a8a8a" stroke-width="0.6"/>
<g transform="translate(222.80 117.50)"><text transform="scale(0.9140 1)" x="0.27 4.67 9.76 14.86 20.09" y="0" font-size="6.91" font-family='"Liberation Sans", sans-serif' fill="#262626" stroke="#262626" stroke-width="0.109">1DCNN</text></g>
<rect x="204.9" y="122.66" width="13.400000000000006" height="4.6" fill="#ccebc5" stroke="#8a8a8a" stroke-width="0.6"/>
<g transform="translate(222.87 127.30)"><text transform="scale(0.9018 1)" x="0.16 5.52 9.25 13.95" y="0" font-size="6.91" font-family='"Liberation Sans", sans-serif' fill="#262626" stroke="#262626" stroke-width="0.111">NLSM</text></g>
<rect x="204.9" y="132.16" width="13.400000000000006" height="4.6" fill="#decbe4" stroke="#8a8a8a" stroke-width="0.6"/>
<g transform="translate(223.45 136.80)"><text transform="scale(0.8992 1)" x="0.13 4.84 9.35" y="0" font-size="6.91" font-family='"Liberation Sans", sans-serif' fill="#262626" stroke="#262626" stroke-width="0.111">VPM</text></g>
<line x1="204.90" y1="144.16" x2="218.30" y2="144.16" stroke="#ff2020" stroke-width="1.2" stroke-dasharray="3,1.8"/>
<g transform="translate(223.14 146.50)"><text transform="scale(1.0343 1)" x="-0.29 5.03 7.31 11.15 15.10 18.98 25.10 27.52 29.86 33.99 36.22" y="0" font-size="6.91" font-family='"Liberation Sans", sans-serif' fill="#262626" stroke="#262626" stroke-width="0.097">Groundtruth</text></g>
<rect x="53.50" y="11.50" width="217.30" height="142.20" fill="none" stroke="#606060" stroke-width="1.0"/>
<line x1="51.00" y1="153.60" x2="53.50" y2="153.60" stroke="#606060" stroke-width="1.0" />
<g transform="translate(25.33 157.59)"><text transform="scale(1.0056 1)" x="0.25 6.70 10.12 16.70" y="0" font-size="10.92" font-family='"Liberation Sans", sans-serif' fill="#262626" stroke="#262626" stroke-width="0.099">0.00</text></g>
<line x1="51.00" y1="128.22" x2="53.50" y2="128.22" stroke="#606060" stroke-width="1.0" />
<g transform="translate(25.55 132.21)"><text transform="scale(0.9768 1)" x="0.35 6.94 10.37 17.24" y="0" font-size="10.92" font-family='"Liberation Sans", sans-serif' fill="#262626" stroke="#262626" stroke-width="0.102">0.25</text></g>
<line x1="51.00" y1="102.85" x2="53.50" y2="102.85" stroke="#606060" stroke-width="1.0" />
<g transform="translate(25.33 106.84)"><text transform="scale(0.9880 1)" x="0.31 6.85 10.31 17.05" y="0" font-size="10.92" font-family='"Liberation Sans", sans-serif' fill="#262626" stroke="#262626" stroke-width="0.101">0.50</text></g>
<line x1="51.00" y1="77.47" x2="53.50" y2="77.47" stroke="#606060" stroke-width="1.0" />
<g transform="translate(25.55 81.46)"><text transform="scale(0.9812 1)" x="0.33 6.91 10.42 17.15" y="0" font-size="10.92" font-family='"Liberation Sans", sans-serif' fill="#262626" stroke="#262626" stroke-width="0.102">0.75</text></g>
<line x1="51.00" y1="52.10" x2="53.50" y2="52.10" stroke="#606060" stroke-width="1.0" />
<g transform="translate(25.33 56.09)"><text transform="scale(0.9925 1)" x="0.24 6.81 10.29 16.96" y="0" font-size="10.92" font-family='"Liberation Sans", sans-serif' fill="#262626" stroke="#262626" stroke-width="0.101">1.00</text></g>
<line x1="51.00" y1="26.72" x2="53.50" y2="26.72" stroke="#606060" stroke-width="1.0" />
<g transform="translate(25.55 30.71)"><text transform="scale(0.9626 1)" x="0.35 7.07 10.56 17.54" y="0" font-size="10.92" font-family='"Liberation Sans", sans-serif' fill="#262626" stroke="#262626" stroke-width="0.104">1.25</text></g>
<line x1="89.70" y1="153.70" x2="89.70" y2="156.20" stroke="#606060" stroke-width="1.0" />
<g transform="translate(61.18 166.40)"><text transform="scale(0.9717 1)" x="-0.19 6.85 14.75 22.46 29.41 45.20 51.86" y="0" font-size="10.92" font-family='"Liberation Sans", sans-serif' fill="#262626" stroke="#262626" stroke-width="0.103">SNR2032</text><text transform="translate(39.20 -3.26) scale(1.206 1.312)" x="-3.19" y="3.63" font-size="10.92" font-family='"Liberation Sans", sans-serif' fill="#262626" stroke="#262626" stroke-width="0.076">~</text></g>
<line x1="162.10" y1="153.70" x2="162.10" y2="156.20" stroke="#606060" stroke-width="1.0" />
<g transform="translate(133.42 166.40)"><text transform="scale(0.9725 1)" x="-0.19 6.84 14.74 22.60 29.24 45.16 51.95" y="0" font-size="10.92" font-family='"Liberation Sans", sans-serif' fill="#262626" stroke="#262626" stroke-width="0.103">SNR3238</text><text transform="translate(39.20 -3.26) scale(1.206 1.312)" x="-3.19" y="3.63" font-size="10.92" font-family='"Liberation Sans", sans-serif' fill="#262626" stroke="#262626" stroke-width="0.076">~</text></g>
<line x1="234.50" y1="153.70" x2="234.50" y2="156.20" stroke="#606060" stroke-width="1.0" />
<g transform="translate(205.81 166.40)"><text transform="scale(0.9814 1)" x="-0.22 6.74 14.56 22.36 29.09 44.71 51.45" y="0" font-size="10.92" font-family='"Liberation Sans", sans-serif' fill="#262626" stroke="#262626" stroke-width="0.102">SNR3840</text><text transform="translate(39.20 -3.26) scale(1.206 1.312)" x="-3.19" y="3.63" font-size="10.92" font-family='"Liberation Sans", sans-serif' fill="#262626" stroke="#262626" stroke-width="0.076">~</text></g>
<text x="0" y="0" font-size="10.6" text-anchor="middle" font-family='"Liberation Serif", serif' fill="#262626" stroke="#262626" stroke-width="0.12" transform="translate(20.20 83.30) rotate(-90)">Lifetime (ns)</text>
<clipPath id="c319"><rect x="319.7" y="11.0" width="226.3" height="147.2"/></clipPath>
<g clip-path="url(#c319)">
<path d="M334.92,11.00 L334.93,11.99 L334.94,12.98 L334.95,13.97 L334.96,14.96 L334.97,15.96 L334.99,16.95 L335.01,17.94 L335.04,18.93 L335.09,19.92 L335.14,20.91 L335.21,21.90 L335.31,22.89 L335.44,23.89 L335.61,24.88 L335.82,25.87 L336.08,26.86 L336.38,27.85 L336.74,28.84 L337.14,29.83 L337.59,30.82 L338.06,31.82 L338.55,32.81 L339.04,33.80 L339.51,34.79 L339.95,35.78 L340.33,36.77 L340.66,37.76 L340.91,38.76 L341.10,39.75 L341.21,40.74 L341.27,41.73 L341.21,42.72 L341.09,43.71 L340.90,44.70 L340.64,45.69 L340.31,46.68 L339.92,47.68 L339.48,48.67 L339.01,49.66 L338.52,50.65 L338.03,51.64 L337.56,52.63 L337.12,53.62 L336.72,54.61 L336.36,55.61 L336.06,56.60 L335.81,57.59 L335.60,58.58 L335.43,59.57 L335.31,60.56 L335.21,61.55 L335.14,62.54 L335.08,63.54 L335.04,64.53 L335.01,65.52 L334.99,66.51 L334.97,67.50 L334.96,68.49 L334.95,69.48 L334.94,70.47 L334.93,71.47 L334.92,72.46 L334.91,73.45 L334.90,74.44 L334.90,75.43 L334.89,76.42 L334.88,77.41 L334.88,78.41 L334.87,79.40 L334.87,80.39 L334.86,81.38 L334.86,82.37 L334.85,83.36 L334.85,84.35 L334.84,85.34 L334.84,86.34 L334.84,87.33 L334.83,88.32 L334.83,89.31 L334.83,90.30 L334.71,90.30 L334.71,89.31 L334.71,88.32 L334.70,87.33 L334.70,86.34 L334.70,85.34 L334.69,84.35 L334.69,83.36 L334.68,82.37 L334.68,81.38 L334.67,80.39 L334.67,79.40 L334.66,78.41 L334.66,77.41 L334.65,76.42 L334.64,75.43 L334.64,74.44 L334.63,73.45 L334.62,72.46 L334.61,71.47 L334.60,70.47 L334.59,69.48 L334.58,68.49 L334.57,67.50 L334.55,66.51 L334.53,65.52 L334.50,64.53 L334.46,63.54 L334.40,62.54 L334.33,61.55 L334.23,60.56 L334.11,59.57 L333.94,58.58 L333.73,57.59 L333.48,56.60 L333.18,55.61 L332.82,54.61 L332.42,53.62 L331.98,52.63 L331.51,51.64 L331.02,50.65 L330.53,49.66 L330.06,48.67 L329.62,47.68 L329.23,46.68 L328.90,45.69 L328.64,44.70 L328.45,43.71 L328.33,42.72 L328.27,41.73 L328.33,40.74 L328.44,39.75 L328.63,38.76 L328.88,37.76 L329.21,36.77 L329.59,35.78 L330.03,34.79 L330.50,33.80 L330.99,32.81 L331.48,31.82 L331.95,30.82 L332.40,29.83 L332.80,28.84 L333.16,27.85 L333.46,26.86 L333.72,25.87 L333.93,24.88 L334.10,23.89 L334.23,22.89 L334.33,21.90 L334.40,20.91 L334.45,19.92 L334.50,18.93 L334.53,17.94 L334.55,16.95 L334.57,15.96 L334.58,14.96 L334.59,13.97 L334.60,12.98 L334.61,11.99 L334.62,11.00Z" fill="#fbb4ae" stroke="#6a6a6a" stroke-width="1.0"/>
<line x1="334.77" y1="11.00" x2="334.77" y2="90.30" stroke="#787878" stroke-width="1.05" />
<line x1="334.77" y1="36.08" x2="334.77" y2="47.32" stroke="#626262" stroke-width="2.0" />
<circle cx="334.77" cy="41.70" r="0.8" fill="#ffffff" fill-opacity="0.6"/>
<path d="M350.01,11.00 L350.01,11.98 L350.02,12.96 L350.03,13.93 L350.04,14.91 L350.05,15.89 L350.07,16.87 L350.08,17.84 L350.10,18.82 L350.13,19.80 L350.16,20.77 L350.20,21.75 L350.26,22.73 L350.35,23.71 L350.45,24.68 L350.60,25.66 L350.78,26.64 L351.01,27.62 L351.30,28.60 L351.64,29.57 L352.04,30.55 L352.49,31.53 L352.99,32.51 L353.52,33.48 L354.07,34.46 L354.62,35.44 L355.14,36.41 L355.63,37.39 L356.05,38.37 L356.41,39.35 L356.69,40.33 L356.89,41.30 L357.01,42.28 L357.05,43.26 L356.98,44.23 L356.85,45.21 L356.65,46.19 L356.38,47.17 L356.03,48.14 L355.62,49.12 L355.16,50.10 L354.67,51.08 L354.15,52.05 L353.63,53.03 L353.12,54.01 L352.64,54.99 L352.20,55.97 L351.80,56.94 L351.45,57.92 L351.15,58.90 L350.90,59.88 L350.70,60.85 L350.54,61.83 L350.42,62.81 L350.32,63.79 L350.25,64.76 L350.20,65.74 L350.16,66.72 L350.13,67.70 L350.10,68.67 L350.08,69.65 L350.07,70.63 L350.06,71.61 L350.04,72.58 L350.03,73.56 L350.03,74.54 L350.02,75.52 L350.01,76.49 L350.00,77.47 L349.99,78.45 L349.99,79.42 L349.98,80.40 L349.97,81.38 L349.97,82.36 L349.96,83.34 L349.96,84.31 L349.95,85.29 L349.95,86.27 L349.94,87.25 L349.94,88.22 L349.94,89.20 L349.78,89.20 L349.78,88.22 L349.78,87.25 L349.77,86.27 L349.77,85.29 L349.76,84.31 L349.76,83.34 L349.75,82.36 L349.75,81.38 L349.74,80.40 L349.73,79.42 L349.73,78.45 L349.72,77.47 L349.71,76.49 L349.70,75.52 L349.69,74.54 L349.69,73.56 L349.68,72.58 L349.66,71.61 L349.65,70.63 L349.64,69.65 L349.62,68.67 L349.59,67.70 L349.56,66.72 L349.52,65.74 L349.47,64.76 L349.40,63.79 L349.30,62.81 L349.18,61.83 L349.02,60.85 L348.82,59.88 L348.57,58.90 L348.27,57.92 L347.92,56.94 L347.52,55.97 L347.08,54.99 L346.60,54.01 L346.09,53.03 L345.57,52.05 L345.05,51.08 L344.56,50.10 L344.10,49.12 L343.69,48.14 L343.34,47.17 L343.07,46.19 L342.87,45.21 L342.74,44.23 L342.67,43.26 L342.71,42.28 L342.83,41.30 L343.03,40.33 L343.31,39.35 L343.67,38.37 L344.09,37.39 L344.58,36.41 L345.10,35.44 L345.65,34.46 L346.20,33.48 L346.73,32.51 L347.23,31.53 L347.68,30.55 L348.08,29.57 L348.42,28.60 L348.71,27.62 L348.94,26.64 L349.12,25.66 L349.27,24.68 L349.37,23.71 L349.46,22.73 L349.52,21.75 L349.56,20.77 L349.59,19.80 L349.62,18.82 L349.64,17.84 L349.65,16.87 L349.67,15.89 L349.68,14.91 L349.69,13.93 L349.70,12.96 L349.71,11.98 L349.71,11.00Z" fill="#b3cde3" stroke="#6a6a6a" stroke-width="1.0"/>
<line x1="349.86" y1="11.00" x2="349.86" y2="89.20" stroke="#787878" stroke-width="1.05" />
<line x1="349.86" y1="37.48" x2="349.86" y2="49.03" stroke="#626262" stroke-width="2.0" />
<circle cx="349.86" cy="43.10" r="0.8" fill="#ffffff" fill-opacity="0.6"/>
<path d="M365.08,30.20 L365.09,31.01 L365.10,31.82 L365.11,32.63 L365.12,33.45 L365.13,34.26 L365.14,35.07 L365.15,35.88 L365.17,36.69 L365.19,37.50 L365.22,38.31 L365.26,39.12 L365.32,39.94 L365.39,40.75 L365.49,41.56 L365.62,42.37 L365.79,43.18 L366.01,43.99 L366.29,44.80 L366.63,45.61 L367.02,46.42 L367.48,47.24 L367.98,48.05 L368.52,48.86 L369.08,49.67 L369.65,50.48 L370.19,51.29 L370.70,52.10 L371.15,52.91 L371.52,53.73 L371.81,54.54 L372.01,55.35 L372.14,56.16 L372.18,56.97 L372.14,57.78 L372.06,58.59 L371.94,59.40 L371.79,60.22 L371.60,61.03 L371.36,61.84 L371.09,62.65 L370.79,63.46 L370.46,64.27 L370.10,65.08 L369.73,65.89 L369.35,66.71 L368.96,67.52 L368.58,68.33 L368.20,69.14 L367.84,69.95 L367.50,70.76 L367.18,71.57 L366.89,72.38 L366.63,73.20 L366.39,74.01 L366.19,74.82 L366.01,75.63 L365.85,76.44 L365.72,77.25 L365.61,78.06 L365.52,78.88 L365.44,79.69 L365.38,80.50 L365.33,81.31 L365.29,82.12 L365.26,82.93 L365.23,83.74 L365.21,84.55 L365.19,85.36 L365.17,86.18 L365.16,86.99 L365.15,87.80 L365.14,88.61 L365.13,89.42 L365.12,90.23 L365.12,91.04 L365.11,91.85 L365.10,92.67 L365.10,93.48 L365.09,94.29 L365.09,95.10 L364.79,95.10 L364.79,94.29 L364.78,93.48 L364.78,92.67 L364.77,91.85 L364.76,91.04 L364.76,90.23 L364.75,89.42 L364.74,88.61 L364.73,87.80 L364.72,86.99 L364.71,86.18 L364.69,85.36 L364.67,84.55 L364.65,83.74 L364.62,82.93 L364.59,82.12 L364.55,81.31 L364.50,80.50 L364.44,79.69 L364.36,78.88 L364.27,78.06 L364.16,77.25 L364.03,76.44 L363.87,75.63 L363.69,74.82 L363.49,74.01 L363.25,73.20 L362.99,72.38 L362.70,71.57 L362.38,70.76 L362.04,69.95 L361.68,69.14 L361.30,68.33 L360.92,67.52 L360.53,66.71 L360.15,65.89 L359.78,65.08 L359.42,64.27 L359.09,63.46 L358.79,62.65 L358.52,61.84 L358.28,61.03 L358.09,60.22 L357.94,59.40 L357.82,58.59 L357.74,57.78 L357.70,56.97 L357.74,56.16 L357.87,55.35 L358.07,54.54 L358.36,53.73 L358.73,52.91 L359.18,52.10 L359.69,51.29 L360.23,50.48 L360.80,49.67 L361.36,48.86 L361.90,48.05 L362.40,47.24 L362.86,46.42 L363.25,45.61 L363.59,44.80 L363.87,43.99 L364.09,43.18 L364.26,42.37 L364.39,41.56 L364.49,40.75 L364.56,39.94 L364.62,39.12 L364.66,38.31 L364.69,37.50 L364.71,36.69 L364.73,35.88 L364.74,35.07 L364.75,34.26 L364.76,33.45 L364.77,32.63 L364.78,31.82 L364.79,31.01 L364.80,30.20Z" fill="#ccebc5" stroke="#6a6a6a" stroke-width="1.0"/>
<line x1="364.94" y1="30.20" x2="364.94" y2="95.10" stroke="#787878" stroke-width="1.05" />
<line x1="364.94" y1="52.24" x2="364.94" y2="63.49" stroke="#626262" stroke-width="2.0" />
<circle cx="364.94" cy="56.80" r="0.8" fill="#ffffff" fill-opacity="0.6"/>
<path d="M380.12,17.00 L380.12,18.12 L380.13,19.25 L380.14,20.37 L380.14,21.49 L380.15,22.61 L380.16,23.73 L380.17,24.86 L380.18,25.98 L380.19,27.10 L380.21,28.23 L380.23,29.35 L380.26,30.47 L380.30,31.59 L380.35,32.72 L380.43,33.84 L380.54,34.96 L380.68,36.08 L380.87,37.20 L381.10,38.33 L381.38,39.45 L381.71,40.57 L382.09,41.70 L382.50,42.82 L382.93,43.94 L383.36,45.06 L383.78,46.18 L384.16,47.31 L384.50,48.43 L384.77,49.55 L384.97,50.67 L385.10,51.80 L385.17,52.92 L385.16,54.04 L385.11,55.16 L385.02,56.29 L384.91,57.41 L384.76,58.53 L384.58,59.66 L384.37,60.78 L384.13,61.90 L383.87,63.02 L383.59,64.14 L383.30,65.27 L383.00,66.39 L382.70,67.51 L382.41,68.64 L382.13,69.76 L381.86,70.88 L381.62,72.00 L381.39,73.12 L381.19,74.25 L381.02,75.37 L380.86,76.49 L380.73,77.61 L380.62,78.74 L380.53,79.86 L380.46,80.98 L380.39,82.10 L380.35,83.23 L380.31,84.35 L380.27,85.47 L380.25,86.59 L380.23,87.72 L380.21,88.84 L380.20,89.96 L380.19,91.09 L380.18,92.21 L380.17,93.33 L380.17,94.45 L380.16,95.58 L380.16,96.70 L380.15,97.82 L380.14,98.94 L380.14,100.06 L380.14,101.19 L380.13,102.31 L380.13,103.43 L380.12,104.55 L380.12,105.68 L380.12,106.80 L379.94,106.80 L379.94,105.68 L379.94,104.55 L379.93,103.43 L379.93,102.31 L379.92,101.19 L379.92,100.06 L379.92,98.94 L379.91,97.82 L379.90,96.70 L379.90,95.58 L379.89,94.45 L379.89,93.33 L379.88,92.21 L379.87,91.09 L379.86,89.96 L379.85,88.84 L379.83,87.72 L379.81,86.59 L379.79,85.47 L379.75,84.35 L379.71,83.23 L379.67,82.10 L379.60,80.98 L379.53,79.86 L379.44,78.74 L379.33,77.61 L379.20,76.49 L379.04,75.37 L378.87,74.25 L378.67,73.12 L378.44,72.00 L378.20,70.88 L377.93,69.76 L377.65,68.64 L377.36,67.51 L377.06,66.39 L376.76,65.27 L376.47,64.14 L376.19,63.02 L375.93,61.90 L375.69,60.78 L375.48,59.66 L375.30,58.53 L375.15,57.41 L375.04,56.29 L374.95,55.16 L374.90,54.04 L374.89,52.92 L374.96,51.80 L375.09,50.67 L375.29,49.55 L375.56,48.43 L375.90,47.31 L376.28,46.18 L376.70,45.06 L377.13,43.94 L377.56,42.82 L377.97,41.70 L378.35,40.57 L378.68,39.45 L378.96,38.33 L379.19,37.20 L379.38,36.08 L379.52,34.96 L379.63,33.84 L379.71,32.72 L379.76,31.59 L379.80,30.47 L379.83,29.35 L379.85,28.23 L379.87,27.10 L379.88,25.98 L379.89,24.86 L379.90,23.73 L379.91,22.61 L379.92,21.49 L379.92,20.37 L379.93,19.25 L379.94,18.12 L379.94,17.00Z" fill="#decbe4" stroke="#6a6a6a" stroke-width="1.0"/>
<line x1="380.03" y1="17.00" x2="380.03" y2="106.80" stroke="#787878" stroke-width="1.05" />
<line x1="380.03" y1="47.84" x2="380.03" y2="60.99" stroke="#626262" stroke-width="2.0" />
<circle cx="380.03" cy="53.20" r="0.8" fill="#ffffff" fill-opacity="0.6"/>
<path d="M410.39,16.80 L410.40,17.65 L410.41,18.51 L410.41,19.36 L410.43,20.21 L410.44,21.06 L410.45,21.91 L410.47,22.77 L410.49,23.62 L410.53,24.47 L410.57,25.33 L410.64,26.18 L410.74,27.03 L410.88,27.88 L411.08,28.73 L411.35,29.59 L411.68,30.44 L412.10,31.29 L412.60,32.15 L413.15,33.00 L413.74,33.85 L414.35,34.70 L414.93,35.56 L415.46,36.41 L415.90,37.26 L416.24,38.11 L416.47,38.97 L416.59,39.82 L416.59,40.67 L416.48,41.52 L416.28,42.38 L416.00,43.23 L415.63,44.08 L415.18,44.93 L414.67,45.79 L414.14,46.64 L413.59,47.49 L413.06,48.34 L412.57,49.19 L412.12,50.05 L411.74,50.90 L411.42,51.75 L411.16,52.61 L410.96,53.46 L410.81,54.31 L410.70,55.16 L410.62,56.02 L410.56,56.87 L410.52,57.72 L410.49,58.57 L410.47,59.42 L410.46,60.28 L410.44,61.13 L410.43,61.98 L410.42,62.84 L410.41,63.69 L410.40,64.54 L410.39,65.39 L410.39,66.25 L410.38,67.10 L410.37,67.95 L410.37,68.80 L410.36,69.66 L410.36,70.51 L410.35,71.36 L410.35,72.21 L410.34,73.06 L410.34,73.92 L410.33,74.77 L410.33,75.62 L410.33,76.47 L410.32,77.33 L410.32,78.18 L410.32,79.03 L410.31,79.89 L410.31,80.74 L410.31,81.59 L410.31,82.44 L410.30,83.30 L410.30,84.15 L410.30,85.00 L410.24,85.00 L410.24,84.15 L410.24,83.30 L410.23,82.44 L410.23,81.59 L410.23,80.74 L410.23,79.89 L410.22,79.03 L410.22,78.18 L410.22,77.33 L410.21,76.47 L410.21,75.62 L410.21,74.77 L410.20,73.92 L410.20,73.06 L410.19,72.21 L410.19,71.36 L410.18,70.51 L410.18,69.66 L410.17,68.80 L410.17,67.95 L410.16,67.10 L410.15,66.25 L410.15,65.39 L410.14,64.54 L410.13,63.69 L410.12,62.84 L410.11,61.98 L410.10,61.13 L410.08,60.28 L410.07,59.42 L410.05,58.57 L410.02,57.72 L409.98,56.87 L409.92,56.02 L409.84,55.16 L409.73,54.31 L409.58,53.46 L409.38,52.61 L409.12,51.75 L408.80,50.90 L408.42,50.05 L407.97,49.19 L407.48,48.34 L406.95,47.49 L406.40,46.64 L405.87,45.79 L405.36,44.93 L404.91,44.08 L404.54,43.23 L404.26,42.38 L404.06,41.52 L403.95,40.67 L403.95,39.82 L404.07,38.97 L404.30,38.11 L404.64,37.26 L405.08,36.41 L405.61,35.56 L406.19,34.70 L406.80,33.85 L407.39,33.00 L407.94,32.15 L408.44,31.29 L408.86,30.44 L409.19,29.59 L409.46,28.73 L409.66,27.88 L409.80,27.03 L409.90,26.18 L409.97,25.33 L410.01,24.47 L410.05,23.62 L410.07,22.77 L410.09,21.91 L410.10,21.06 L410.11,20.21 L410.13,19.36 L410.13,18.51 L410.14,17.65 L410.15,16.80Z" fill="#fbb4ae" stroke="#6a6a6a" stroke-width="1.0"/>
<line x1="410.27" y1="16.80" x2="410.27" y2="85.00" stroke="#787878" stroke-width="1.05" />
<line x1="410.27" y1="36.40" x2="410.27" y2="44.42" stroke="#626262" stroke-width="2.0" />
<circle cx="410.27" cy="40.20" r="0.8" fill="#ffffff" fill-opacity="0.6"/>
<path d="M425.54,24.40 L425.55,24.99 L425.56,25.57 L425.57,26.16 L425.58,26.74 L425.60,27.33 L425.62,27.92 L425.64,28.50 L425.67,29.09 L425.71,29.68 L425.77,30.26 L425.84,30.85 L425.94,31.43 L426.07,32.02 L426.24,32.61 L426.46,33.19 L426.73,33.78 L427.05,34.37 L427.44,34.95 L427.88,35.54 L428.38,36.12 L428.92,36.71 L429.49,37.30 L430.08,37.88 L430.66,38.47 L431.22,39.06 L431.73,39.64 L432.18,40.23 L432.56,40.81 L432.86,41.40 L433.07,41.99 L433.20,42.57 L433.25,43.16 L433.16,43.75 L432.97,44.33 L432.68,44.92 L432.28,45.50 L431.78,46.09 L431.21,46.68 L430.57,47.26 L429.91,47.85 L429.25,48.44 L428.61,49.02 L428.03,49.61 L427.51,50.19 L427.07,50.78 L426.70,51.37 L426.40,51.95 L426.18,52.54 L426.00,53.13 L425.88,53.71 L425.78,54.30 L425.72,54.88 L425.67,55.47 L425.64,56.06 L425.61,56.64 L425.59,57.23 L425.57,57.82 L425.56,58.40 L425.55,58.99 L425.54,59.57 L425.53,60.16 L425.52,60.75 L425.51,61.33 L425.50,61.92 L425.49,62.51 L425.48,63.09 L425.48,63.68 L425.47,64.26 L425.46,64.85 L425.46,65.44 L425.45,66.02 L425.45,66.61 L425.44,67.20 L425.44,67.78 L425.43,68.37 L425.43,68.95 L425.42,69.54 L425.42,70.13 L425.42,70.71 L425.41,71.30 L425.31,71.30 L425.30,70.71 L425.30,70.13 L425.30,69.54 L425.29,68.95 L425.29,68.37 L425.28,67.78 L425.28,67.20 L425.27,66.61 L425.27,66.02 L425.26,65.44 L425.26,64.85 L425.25,64.26 L425.24,63.68 L425.24,63.09 L425.23,62.51 L425.22,61.92 L425.21,61.33 L425.20,60.75 L425.19,60.16 L425.18,59.57 L425.17,58.99 L425.16,58.40 L425.15,57.82 L425.13,57.23 L425.11,56.64 L425.08,56.06 L425.05,55.47 L425.00,54.88 L424.94,54.30 L424.84,53.71 L424.72,53.13 L424.54,52.54 L424.32,51.95 L424.02,51.37 L423.65,50.78 L423.21,50.19 L422.69,49.61 L422.11,49.02 L421.47,48.44 L420.81,47.85 L420.15,47.26 L419.51,46.68 L418.94,46.09 L418.44,45.50 L418.04,44.92 L417.75,44.33 L417.56,43.75 L417.47,43.16 L417.52,42.57 L417.65,41.99 L417.86,41.40 L418.16,40.81 L418.54,40.23 L418.99,39.64 L419.50,39.06 L420.06,38.47 L420.64,37.88 L421.23,37.30 L421.80,36.71 L422.34,36.12 L422.84,35.54 L423.28,34.95 L423.67,34.37 L423.99,33.78 L424.26,33.19 L424.48,32.61 L424.65,32.02 L424.78,31.43 L424.88,30.85 L424.95,30.26 L425.01,29.68 L425.05,29.09 L425.08,28.50 L425.10,27.92 L425.12,27.33 L425.14,26.74 L425.15,26.16 L425.16,25.57 L425.17,24.99 L425.18,24.40Z" fill="#b3cde3" stroke="#6a6a6a" stroke-width="1.0"/>
<line x1="425.36" y1="24.40" x2="425.36" y2="71.30" stroke="#787878" stroke-width="1.05" />
<line x1="425.36" y1="39.57" x2="425.36" y2="46.22" stroke="#626262" stroke-width="2.0" />
<circle cx="425.36" cy="43.10" r="0.8" fill="#ffffff" fill-opacity="0.6"/>
<path d="M440.60,35.30 L440.60,35.77 L440.61,36.23 L440.62,36.70 L440.63,37.16 L440.64,37.63 L440.65,38.10 L440.67,38.56 L440.68,39.03 L440.70,39.50 L440.73,39.96 L440.76,40.43 L440.81,40.89 L440.86,41.36 L440.93,41.83 L441.02,42.29 L441.14,42.76 L441.28,43.23 L441.45,43.69 L441.67,44.16 L441.92,44.62 L442.21,45.09 L442.54,45.56 L442.91,46.02 L443.31,46.49 L443.74,46.96 L444.20,47.42 L444.66,47.89 L445.13,48.35 L445.58,48.82 L446.01,49.29 L446.40,49.75 L446.75,50.22 L447.04,50.69 L447.28,51.15 L447.46,51.62 L447.59,52.08 L447.67,52.55 L447.67,53.02 L447.62,53.48 L447.53,53.95 L447.40,54.42 L447.23,54.88 L447.01,55.35 L446.76,55.81 L446.47,56.28 L446.15,56.75 L445.80,57.21 L445.42,57.68 L445.04,58.15 L444.64,58.61 L444.25,59.08 L443.86,59.54 L443.49,60.01 L443.13,60.48 L442.80,60.94 L442.49,61.41 L442.21,61.88 L441.96,62.34 L441.74,62.81 L441.55,63.27 L441.38,63.74 L441.24,64.21 L441.13,64.67 L441.03,65.14 L440.95,65.61 L440.89,66.07 L440.83,66.54 L440.79,67.00 L440.76,67.47 L440.73,67.94 L440.71,68.40 L440.69,68.87 L440.67,69.34 L440.66,69.80 L440.65,70.27 L440.64,70.73 L440.63,71.20 L440.62,71.67 L440.62,72.13 L440.61,72.60 L440.27,72.60 L440.26,72.13 L440.26,71.67 L440.25,71.20 L440.24,70.73 L440.23,70.27 L440.22,69.80 L440.21,69.34 L440.19,68.87 L440.17,68.40 L440.15,67.94 L440.12,67.47 L440.09,67.00 L440.05,66.54 L439.99,66.07 L439.93,65.61 L439.85,65.14 L439.75,64.67 L439.64,64.21 L439.50,63.74 L439.33,63.27 L439.14,62.81 L438.92,62.34 L438.67,61.88 L438.39,61.41 L438.08,60.94 L437.75,60.48 L437.39,60.01 L437.02,59.54 L436.63,59.08 L436.24,58.61 L435.84,58.15 L435.46,57.68 L435.08,57.21 L434.73,56.75 L434.41,56.28 L434.12,55.81 L433.87,55.35 L433.65,54.88 L433.48,54.42 L433.35,53.95 L433.26,53.48 L433.21,53.02 L433.21,52.55 L433.29,52.08 L433.42,51.62 L433.60,51.15 L433.84,50.69 L434.13,50.22 L434.48,49.75 L434.87,49.29 L435.30,48.82 L435.75,48.35 L436.22,47.89 L436.68,47.42 L437.14,46.96 L437.57,46.49 L437.97,46.02 L438.34,45.56 L438.67,45.09 L438.96,44.62 L439.21,44.16 L439.43,43.69 L439.60,43.23 L439.74,42.76 L439.86,42.29 L439.95,41.83 L440.02,41.36 L440.07,40.89 L440.12,40.43 L440.15,39.96 L440.18,39.50 L440.20,39.03 L440.21,38.56 L440.23,38.10 L440.24,37.63 L440.25,37.16 L440.26,36.70 L440.27,36.23 L440.28,35.77 L440.28,35.30Z" fill="#ccebc5" stroke="#6a6a6a" stroke-width="1.0"/>
<line x1="440.44" y1="35.30" x2="440.44" y2="72.60" stroke="#787878" stroke-width="1.05" />
<line x1="440.44" y1="49.61" x2="440.44" y2="56.56" stroke="#626262" stroke-width="2.0" />
<circle cx="440.44" cy="52.80" r="0.8" fill="#ffffff" fill-opacity="0.6"/>
<path d="M455.67,25.30 L455.68,26.00 L455.69,26.69 L455.70,27.39 L455.71,28.09 L455.73,28.78 L455.75,29.48 L455.77,30.17 L455.81,30.87 L455.85,31.57 L455.90,32.26 L455.98,32.96 L456.07,33.66 L456.18,34.35 L456.32,35.05 L456.49,35.74 L456.69,36.44 L456.93,37.14 L457.19,37.83 L457.50,38.53 L457.82,39.23 L458.17,39.92 L458.54,40.62 L458.91,41.31 L459.28,42.01 L459.63,42.71 L459.96,43.40 L460.26,44.10 L460.52,44.80 L460.73,45.49 L460.90,46.19 L461.02,46.88 L461.09,47.58 L461.13,48.28 L461.10,48.97 L461.05,49.67 L460.98,50.37 L460.89,51.06 L460.78,51.76 L460.64,52.45 L460.48,53.15 L460.29,53.85 L460.08,54.54 L459.86,55.24 L459.62,55.94 L459.37,56.63 L459.11,57.33 L458.85,58.02 L458.58,58.72 L458.32,59.42 L458.07,60.11 L457.82,60.81 L457.58,61.50 L457.36,62.20 L457.15,62.90 L456.96,63.59 L456.79,64.29 L456.63,64.99 L456.49,65.68 L456.36,66.38 L456.26,67.08 L456.16,67.77 L456.08,68.47 L456.01,69.16 L455.95,69.86 L455.91,70.56 L455.86,71.25 L455.83,71.95 L455.80,72.65 L455.78,73.34 L455.76,74.04 L455.74,74.73 L455.73,75.43 L455.72,76.13 L455.71,76.82 L455.70,77.52 L455.69,78.22 L455.69,78.91 L455.68,79.61 L455.67,80.30 L455.67,81.00 L455.39,81.00 L455.39,80.30 L455.38,79.61 L455.37,78.91 L455.37,78.22 L455.36,77.52 L455.35,76.82 L455.34,76.13 L455.33,75.43 L455.32,74.73 L455.30,74.04 L455.28,73.34 L455.26,72.65 L455.23,71.95 L455.20,71.25 L455.15,70.56 L455.11,69.86 L455.05,69.16 L454.98,68.47 L454.90,67.77 L454.80,67.08 L454.70,66.38 L454.57,65.68 L454.43,64.99 L454.27,64.29 L454.10,63.59 L453.91,62.90 L453.70,62.20 L453.48,61.50 L453.24,60.81 L452.99,60.11 L452.74,59.42 L452.48,58.72 L452.21,58.02 L451.95,57.33 L451.69,56.63 L451.44,55.94 L451.20,55.24 L450.98,54.54 L450.77,53.85 L450.58,53.15 L450.42,52.45 L450.28,51.76 L450.17,51.06 L450.08,50.37 L450.01,49.67 L449.96,48.97 L449.93,48.28 L449.97,47.58 L450.04,46.88 L450.16,46.19 L450.33,45.49 L450.54,44.80 L450.80,44.10 L451.10,43.40 L451.43,42.71 L451.78,42.01 L452.15,41.31 L452.52,40.62 L452.89,39.92 L453.24,39.23 L453.56,38.53 L453.87,37.83 L454.13,37.14 L454.37,36.44 L454.57,35.74 L454.74,35.05 L454.88,34.35 L454.99,33.66 L455.08,32.96 L455.16,32.26 L455.21,31.57 L455.25,30.87 L455.29,30.17 L455.31,29.48 L455.33,28.78 L455.35,28.09 L455.36,27.39 L455.37,26.69 L455.38,26.00 L455.39,25.30Z" fill="#decbe4" stroke="#6a6a6a" stroke-width="1.0"/>
<line x1="455.53" y1="25.30" x2="455.53" y2="81.00" stroke="#787878" stroke-width="1.05" />
<line x1="455.53" y1="43.87" x2="455.53" y2="54.28" stroke="#626262" stroke-width="2.0" />
<circle cx="455.53" cy="48.20" r="0.8" fill="#ffffff" fill-opacity="0.6"/>
<path d="M485.77,20.30 L485.78,20.89 L485.79,21.48 L485.80,22.07 L485.80,22.66 L485.81,23.25 L485.82,23.84 L485.83,24.43 L485.85,25.02 L485.86,25.61 L485.87,26.20 L485.90,26.79 L485.92,27.38 L485.96,27.97 L486.01,28.56 L486.09,29.15 L486.19,29.74 L486.34,30.33 L486.53,30.92 L486.79,31.51 L487.12,32.10 L487.51,32.69 L487.98,33.28 L488.51,33.87 L489.08,34.46 L489.67,35.05 L490.26,35.64 L490.82,36.23 L491.32,36.82 L491.73,37.41 L492.05,38.00 L492.26,38.59 L492.39,39.18 L492.39,39.77 L492.28,40.36 L492.08,40.95 L491.78,41.54 L491.38,42.13 L490.90,42.72 L490.36,43.31 L489.78,43.90 L489.19,44.49 L488.62,45.08 L488.09,45.67 L487.62,46.26 L487.21,46.85 L486.87,47.44 L486.60,48.03 L486.39,48.62 L486.23,49.21 L486.12,49.80 L486.03,50.39 L485.98,50.98 L485.93,51.57 L485.90,52.16 L485.88,52.75 L485.86,53.34 L485.85,53.93 L485.84,54.52 L485.83,55.11 L485.82,55.70 L485.81,56.29 L485.80,56.88 L485.79,57.47 L485.79,58.06 L485.78,58.65 L485.77,59.24 L485.77,59.83 L485.76,60.42 L485.75,61.01 L485.75,61.60 L485.74,62.19 L485.74,62.78 L485.74,63.37 L485.73,63.96 L485.73,64.55 L485.72,65.14 L485.72,65.73 L485.72,66.32 L485.72,66.91 L485.71,67.50 L485.63,67.50 L485.62,66.91 L485.62,66.32 L485.62,65.73 L485.62,65.14 L485.61,64.55 L485.61,63.96 L485.60,63.37 L485.60,62.78 L485.60,62.19 L485.59,61.60 L485.59,61.01 L485.58,60.42 L485.57,59.83 L485.57,59.24 L485.56,58.65 L485.55,58.06 L485.55,57.47 L485.54,56.88 L485.53,56.29 L485.52,55.70 L485.51,55.11 L485.50,54.52 L485.49,53.93 L485.48,53.34 L485.46,52.75 L485.44,52.16 L485.41,51.57 L485.36,50.98 L485.31,50.39 L485.22,49.80 L485.11,49.21 L484.95,48.62 L484.74,48.03 L484.47,47.44 L484.13,46.85 L483.72,46.26 L483.25,45.67 L482.72,45.08 L482.15,44.49 L481.56,43.90 L480.98,43.31 L480.44,42.72 L479.96,42.13 L479.56,41.54 L479.26,40.95 L479.06,40.36 L478.95,39.77 L478.95,39.18 L479.08,38.59 L479.29,38.00 L479.61,37.41 L480.02,36.82 L480.52,36.23 L481.08,35.64 L481.67,35.05 L482.26,34.46 L482.83,33.87 L483.36,33.28 L483.83,32.69 L484.22,32.10 L484.55,31.51 L484.81,30.92 L485.00,30.33 L485.15,29.74 L485.25,29.15 L485.33,28.56 L485.38,27.97 L485.42,27.38 L485.44,26.79 L485.47,26.20 L485.48,25.61 L485.49,25.02 L485.51,24.43 L485.52,23.84 L485.53,23.25 L485.54,22.66 L485.54,22.07 L485.55,21.48 L485.56,20.89 L485.57,20.30Z" fill="#fbb4ae" stroke="#6a6a6a" stroke-width="1.0"/>
<line x1="485.67" y1="20.30" x2="485.67" y2="67.50" stroke="#787878" stroke-width="1.05" />
<line x1="485.67" y1="36.61" x2="485.67" y2="42.43" stroke="#626262" stroke-width="2.0" />
<circle cx="485.67" cy="39.50" r="0.8" fill="#ffffff" fill-opacity="0.6"/>
<path d="M500.88,26.10 L500.89,26.61 L500.90,27.12 L500.91,27.64 L500.92,28.15 L500.93,28.66 L500.94,29.18 L500.95,29.69 L500.96,30.20 L500.98,30.71 L500.99,31.23 L501.02,31.74 L501.05,32.25 L501.09,32.76 L501.14,33.27 L501.22,33.79 L501.33,34.30 L501.48,34.81 L501.69,35.33 L501.97,35.84 L502.32,36.35 L502.75,36.86 L503.27,37.38 L503.85,37.89 L504.50,38.40 L505.19,38.91 L505.88,39.42 L506.54,39.94 L507.15,40.45 L507.67,40.96 L508.09,41.47 L508.39,41.99 L508.57,42.50 L508.66,43.01 L508.55,43.52 L508.32,44.04 L507.96,44.55 L507.46,45.06 L506.84,45.58 L506.13,46.09 L505.38,46.60 L504.63,47.11 L503.91,47.62 L503.26,48.14 L502.70,48.65 L502.24,49.16 L501.88,49.67 L501.61,50.19 L501.40,50.70 L501.26,51.21 L501.16,51.72 L501.10,52.24 L501.05,52.75 L501.02,53.26 L500.99,53.77 L500.97,54.29 L500.96,54.80 L500.94,55.31 L500.93,55.82 L500.92,56.34 L500.91,56.85 L500.90,57.36 L500.89,57.88 L500.88,58.39 L500.87,58.90 L500.87,59.41 L500.86,59.92 L500.85,60.44 L500.85,60.95 L500.84,61.46 L500.84,61.97 L500.83,62.49 L500.83,63.00 L500.82,63.51 L500.82,64.03 L500.81,64.54 L500.81,65.05 L500.81,65.56 L500.80,66.07 L500.80,66.59 L500.80,67.10 L500.72,67.10 L500.72,66.59 L500.72,66.07 L500.71,65.56 L500.71,65.05 L500.71,64.54 L500.70,64.03 L500.70,63.51 L500.69,63.00 L500.69,62.49 L500.68,61.97 L500.68,61.46 L500.67,60.95 L500.67,60.44 L500.66,59.92 L500.65,59.41 L500.65,58.90 L500.64,58.39 L500.63,57.88 L500.62,57.36 L500.61,56.85 L500.60,56.34 L500.59,55.82 L500.58,55.31 L500.56,54.80 L500.55,54.29 L500.53,53.77 L500.50,53.26 L500.47,52.75 L500.42,52.24 L500.36,51.72 L500.26,51.21 L500.12,50.70 L499.91,50.19 L499.64,49.67 L499.28,49.16 L498.82,48.65 L498.26,48.14 L497.61,47.62 L496.89,47.11 L496.14,46.60 L495.39,46.09 L494.68,45.58 L494.06,45.06 L493.56,44.55 L493.20,44.04 L492.97,43.52 L492.86,43.01 L492.95,42.50 L493.13,41.99 L493.43,41.47 L493.85,40.96 L494.37,40.45 L494.98,39.94 L495.64,39.42 L496.33,38.91 L497.02,38.40 L497.67,37.89 L498.25,37.38 L498.77,36.86 L499.20,36.35 L499.55,35.84 L499.83,35.33 L500.04,34.81 L500.19,34.30 L500.30,33.79 L500.38,33.27 L500.43,32.76 L500.47,32.25 L500.50,31.74 L500.53,31.23 L500.54,30.71 L500.56,30.20 L500.57,29.69 L500.58,29.18 L500.59,28.66 L500.60,28.15 L500.61,27.64 L500.62,27.12 L500.63,26.61 L500.64,26.10Z" fill="#b3cde3" stroke="#6a6a6a" stroke-width="1.0"/>
<line x1="500.76" y1="26.10" x2="500.76" y2="67.10" stroke="#787878" stroke-width="1.05" />
<line x1="500.76" y1="40.38" x2="500.76" y2="45.39" stroke="#626262" stroke-width="2.0" />
<circle cx="500.76" cy="43.00" r="0.8" fill="#ffffff" fill-opacity="0.6"/>
<path d="M515.95,34.00 L515.96,34.37 L515.96,34.74 L515.97,35.12 L515.97,35.49 L515.98,35.86 L515.99,36.23 L515.99,36.61 L516.00,36.98 L516.01,37.35 L516.02,37.73 L516.03,38.10 L516.04,38.47 L516.05,38.84 L516.06,39.21 L516.07,39.59 L516.09,39.96 L516.11,40.33 L516.14,40.70 L516.17,41.08 L516.22,41.45 L516.27,41.82 L516.35,42.20 L516.44,42.57 L516.56,42.94 L516.71,43.31 L516.89,43.69 L517.11,44.06 L517.37,44.43 L517.68,44.80 L518.03,45.17 L518.42,45.55 L518.85,45.92 L519.31,46.29 L519.79,46.66 L520.28,47.04 L520.78,47.41 L521.25,47.78 L521.71,48.16 L522.12,48.53 L522.48,48.90 L522.79,49.27 L523.04,49.64 L523.22,50.02 L523.35,50.39 L523.42,50.76 L523.41,51.13 L523.33,51.51 L523.21,51.88 L523.04,52.25 L522.81,52.62 L522.53,53.00 L522.20,53.37 L521.82,53.74 L521.41,54.11 L520.97,54.49 L520.52,54.86 L520.06,55.23 L519.60,55.60 L519.16,55.98 L518.74,56.35 L518.35,56.72 L517.99,57.09 L517.67,57.47 L517.38,57.84 L517.13,58.21 L516.92,58.58 L516.75,58.96 L516.60,59.33 L516.48,59.70 L516.38,60.08 L516.31,60.45 L516.25,60.82 L516.20,61.19 L516.16,61.56 L516.13,61.94 L516.11,62.31 L516.09,62.68 L516.07,63.05 L516.06,63.43 L516.05,63.80 L515.63,63.80 L515.62,63.43 L515.61,63.05 L515.59,62.68 L515.57,62.31 L515.55,61.94 L515.52,61.56 L515.48,61.19 L515.43,60.82 L515.37,60.45 L515.30,60.08 L515.20,59.70 L515.08,59.33 L514.93,58.96 L514.76,58.58 L514.55,58.21 L514.30,57.84 L514.01,57.47 L513.69,57.09 L513.33,56.72 L512.94,56.35 L512.52,55.98 L512.08,55.60 L511.62,55.23 L511.16,54.86 L510.71,54.49 L510.27,54.11 L509.86,53.74 L509.48,53.37 L509.15,53.00 L508.87,52.62 L508.64,52.25 L508.47,51.88 L508.35,51.51 L508.27,51.13 L508.26,50.76 L508.33,50.39 L508.46,50.02 L508.64,49.64 L508.89,49.27 L509.20,48.90 L509.56,48.53 L509.97,48.16 L510.43,47.78 L510.90,47.41 L511.40,47.04 L511.89,46.66 L512.37,46.29 L512.83,45.92 L513.26,45.55 L513.65,45.17 L514.00,44.80 L514.31,44.43 L514.57,44.06 L514.79,43.69 L514.97,43.31 L515.12,42.94 L515.24,42.57 L515.33,42.20 L515.41,41.82 L515.46,41.45 L515.51,41.08 L515.54,40.70 L515.57,40.33 L515.59,39.96 L515.61,39.59 L515.62,39.21 L515.63,38.84 L515.64,38.47 L515.65,38.10 L515.66,37.73 L515.67,37.35 L515.68,36.98 L515.69,36.61 L515.69,36.23 L515.70,35.86 L515.71,35.49 L515.71,35.12 L515.72,34.74 L515.72,34.37 L515.73,34.00Z" fill="#ccebc5" stroke="#6a6a6a" stroke-width="1.0"/>
<line x1="515.84" y1="34.00" x2="515.84" y2="63.80" stroke="#787878" stroke-width="1.05" />
<line x1="515.84" y1="48.35" x2="515.84" y2="53.64" stroke="#626262" stroke-width="2.0" />
<circle cx="515.84" cy="50.90" r="0.8" fill="#ffffff" fill-opacity="0.6"/>
<path d="M531.02,27.10 L531.02,27.65 L531.03,28.21 L531.03,28.76 L531.04,29.32 L531.04,29.87 L531.05,30.42 L531.06,30.98 L531.07,31.53 L531.08,32.08 L531.09,32.64 L531.10,33.19 L531.11,33.75 L531.13,34.30 L531.15,34.85 L531.18,35.41 L531.22,35.96 L531.27,36.51 L531.35,37.07 L531.46,37.62 L531.60,38.18 L531.78,38.73 L532.01,39.28 L532.30,39.84 L532.64,40.39 L533.03,40.94 L533.46,41.50 L533.93,42.05 L534.41,42.61 L534.90,43.16 L535.35,43.71 L535.77,44.27 L536.13,44.82 L536.41,45.37 L536.62,45.93 L536.76,46.48 L536.82,47.04 L536.79,47.59 L536.71,48.14 L536.58,48.70 L536.40,49.25 L536.17,49.80 L535.90,50.36 L535.58,50.91 L535.22,51.47 L534.85,52.02 L534.45,52.57 L534.06,53.13 L533.67,53.68 L533.30,54.23 L532.96,54.79 L532.64,55.34 L532.36,55.90 L532.12,56.45 L531.91,57.00 L531.73,57.56 L531.59,58.11 L531.47,58.66 L531.38,59.22 L531.31,59.77 L531.26,60.33 L531.21,60.88 L531.18,61.43 L531.16,61.99 L531.14,62.54 L531.12,63.09 L531.11,63.65 L531.10,64.20 L531.09,64.75 L531.08,65.31 L531.07,65.86 L531.06,66.42 L531.06,66.97 L531.05,67.52 L531.05,68.08 L531.04,68.63 L531.04,69.19 L531.03,69.74 L531.03,70.29 L531.02,70.85 L531.02,71.40 L530.84,71.40 L530.84,70.85 L530.83,70.29 L530.83,69.74 L530.82,69.19 L530.82,68.63 L530.81,68.08 L530.81,67.52 L530.80,66.97 L530.80,66.42 L530.79,65.86 L530.78,65.31 L530.77,64.75 L530.76,64.20 L530.75,63.65 L530.74,63.09 L530.72,62.54 L530.70,61.99 L530.68,61.43 L530.65,60.88 L530.60,60.33 L530.55,59.77 L530.48,59.22 L530.39,58.66 L530.27,58.11 L530.13,57.56 L529.95,57.00 L529.74,56.45 L529.50,55.90 L529.22,55.34 L528.90,54.79 L528.56,54.23 L528.19,53.68 L527.80,53.13 L527.41,52.57 L527.01,52.02 L526.64,51.47 L526.28,50.91 L525.96,50.36 L525.69,49.80 L525.46,49.25 L525.28,48.70 L525.15,48.14 L525.07,47.59 L525.04,47.04 L525.10,46.48 L525.24,45.93 L525.45,45.37 L525.73,44.82 L526.09,44.27 L526.51,43.71 L526.96,43.16 L527.45,42.61 L527.93,42.05 L528.40,41.50 L528.83,40.94 L529.22,40.39 L529.56,39.84 L529.85,39.28 L530.08,38.73 L530.26,38.18 L530.40,37.62 L530.51,37.07 L530.59,36.51 L530.64,35.96 L530.68,35.41 L530.71,34.85 L530.73,34.30 L530.75,33.75 L530.76,33.19 L530.77,32.64 L530.78,32.08 L530.79,31.53 L530.80,30.98 L530.81,30.42 L530.82,29.87 L530.82,29.32 L530.83,28.76 L530.83,28.21 L530.84,27.65 L530.84,27.10Z" fill="#decbe4" stroke="#6a6a6a" stroke-width="1.0"/>
<line x1="530.93" y1="27.10" x2="530.93" y2="71.40" stroke="#787878" stroke-width="1.05" />
<line x1="530.93" y1="44.29" x2="530.93" y2="50.56" stroke="#626262" stroke-width="2.0" />
<circle cx="530.93" cy="47.10" r="0.8" fill="#ffffff" fill-opacity="0.6"/>
</g>
<line x1="319.70" y1="40.42" x2="546.00" y2="40.42" stroke="#ff2020" stroke-width="1.25" stroke-dasharray="3.7,1.68"/>
<rect x="475.5" y="102.4" width="66.29999999999995" height="52.900000000000006" rx="1.5" fill="#ffffff" fill-opacity="0.85" stroke="#dcdcdc" stroke-width="0.8"/>
<rect x="477.4" y="105.49" width="13.900000000000034" height="4.6" fill="#fbb4ae" stroke="#8a8a8a" stroke-width="0.6"/>
<g transform="translate(496.45 110.20)"><text transform="scale(0.9541 1)" x="0.02 6.06 9.65 14.01 20.14 22.13 26.14 30.61" y="0" font-size="7.13" font-family='"Liberation Sans", sans-serif' fill="#262626" stroke="#262626" stroke-width="0.105">MLPMixer</text></g>
<rect x="477.4" y="115.59" width="13.900000000000034" height="4.6" fill="#b3cde3" stroke="#8a8a8a" stroke-width="0.6"/>
<g transform="translate(496.37 120.30)"><text transform="scale(0.9140 1)" x="0.28 4.82 10.06 15.32 20.72" y="0" font-size="7.13" font-family='"Liberation Sans", sans-serif' fill="#262626" stroke="#262626" stroke-width="0.109">1DCNN</text></g>
<rect x="477.4" y="125.79" width="13.900000000000034" height="4.6" fill="#ccebc5" stroke="#8a8a8a" stroke-width="0.6"/>
<g transform="translate(496.45 130.50)"><text transform="scale(0.9018 1)" x="0.16 5.70 9.54 14.39" y="0" font-size="7.13" font-family='"Liberation Sans", sans-serif' fill="#262626" stroke="#262626" stroke-width="0.111">NLSM</text></g>
<rect x="477.4" y="135.69" width="13.900000000000034" height="4.6" fill="#decbe4" stroke="#8a8a8a" stroke-width="0.6"/>
<g transform="translate(497.05 140.40)"><text transform="scale(0.8992 1)" x="0.13 4.99 9.65" y="0" font-size="7.13" font-family='"Liberation Sans", sans-serif' fill="#262626" stroke="#262626" stroke-width="0.111">VPM</text></g>
<line x1="477.40" y1="147.99" x2="491.30" y2="147.99" stroke="#ff2020" stroke-width="1.2" stroke-dasharray="3,1.8"/>
<g transform="translate(496.73 150.40)"><text transform="scale(1.0343 1)" x="-0.30 5.18 7.54 11.50 15.57 19.57 25.88 28.38 30.79 35.05 37.36" y="0" font-size="7.13" font-family='"Liberation Sans", sans-serif' fill="#262626" stroke="#262626" stroke-width="0.097">Groundtruth</text></g>
<rect x="319.70" y="11.00" width="226.30" height="147.20" fill="none" stroke="#606060" stroke-width="1.0"/>
<line x1="317.20" y1="158.10" x2="319.70" y2="158.10" stroke="#606060" stroke-width="1.0" />
<g transform="translate(307.56 162.16)"><text transform="scale(1.0039 1)" x="0.26" y="0" font-size="11.13" font-family='"Liberation Sans", sans-serif' fill="#262626" stroke="#262626" stroke-width="0.100">0</text></g>
<line x1="317.20" y1="128.68" x2="319.70" y2="128.68" stroke="#606060" stroke-width="1.0" />
<g transform="translate(307.83 132.74)"><text transform="scale(0.9589 1)" x="0.37" y="0" font-size="11.13" font-family='"Liberation Sans", sans-serif' fill="#262626" stroke="#262626" stroke-width="0.104">1</text></g>
<line x1="317.20" y1="99.26" x2="319.70" y2="99.26" stroke="#606060" stroke-width="1.0" />
<g transform="translate(307.92 103.39)"><text transform="scale(0.9677 1)" x="0.24" y="0" font-size="11.13" font-family='"Liberation Sans", sans-serif' fill="#262626" stroke="#262626" stroke-width="0.103">2</text></g>
<line x1="317.20" y1="69.84" x2="319.70" y2="69.84" stroke="#606060" stroke-width="1.0" />
<g transform="translate(307.70 73.90)"><text transform="scale(0.9642 1)" x="0.41" y="0" font-size="11.13" font-family='"Liberation Sans", sans-serif' fill="#262626" stroke="#262626" stroke-width="0.104">3</text></g>
<line x1="317.20" y1="40.42" x2="319.70" y2="40.42" stroke="#606060" stroke-width="1.0" />
<g transform="translate(307.45 44.48)"><text transform="scale(1.0041 1)" x="0.26" y="0" font-size="11.13" font-family='"Liberation Sans", sans-serif' fill="#262626" stroke="#262626" stroke-width="0.100">4</text></g>
<line x1="317.20" y1="11.00" x2="319.70" y2="11.00" stroke="#606060" stroke-width="1.0" />
<g transform="translate(307.78 14.99)"><text transform="scale(0.9475 1)" x="0.42" y="0" font-size="11.13" font-family='"Liberation Sans", sans-serif' fill="#262626" stroke="#262626" stroke-width="0.106">5</text></g>
<line x1="357.40" y1="158.20" x2="357.40" y2="160.70" stroke="#606060" stroke-width="1.0" />
<g transform="translate(327.93 171.40)"><text transform="scale(0.9717 1)" x="-0.19 7.08 15.25 23.22 30.40 46.72 53.60" y="0" font-size="11.29" font-family='"Liberation Sans", sans-serif' fill="#262626" stroke="#262626" stroke-width="0.103">SNR2032</text><text transform="translate(40.52 -3.37) scale(1.206 1.312)" x="-3.30" y="3.75" font-size="11.29" font-family='"Liberation Sans", sans-serif' fill="#262626" stroke="#262626" stroke-width="0.076">~</text></g>
<line x1="432.90" y1="158.20" x2="432.90" y2="160.70" stroke="#606060" stroke-width="1.0" />
<g transform="translate(403.26 171.40)"><text transform="scale(0.9725 1)" x="-0.20 7.07 15.23 23.36 30.23 46.68 53.70" y="0" font-size="11.29" font-family='"Liberation Sans", sans-serif' fill="#262626" stroke="#262626" stroke-width="0.103">SNR3238</text><text transform="translate(40.52 -3.37) scale(1.206 1.312)" x="-3.30" y="3.75" font-size="11.29" font-family='"Liberation Sans", sans-serif' fill="#262626" stroke="#262626" stroke-width="0.076">~</text></g>
<line x1="508.30" y1="158.20" x2="508.30" y2="160.70" stroke="#606060" stroke-width="1.0" />
<g transform="translate(478.65 171.40)"><text transform="scale(0.9814 1)" x="-0.23 6.97 15.05 23.11 30.07 46.21 53.19" y="0" font-size="11.29" font-family='"Liberation Sans", sans-serif' fill="#262626" stroke="#262626" stroke-width="0.102">SNR3840</text><text transform="translate(40.52 -3.37) scale(1.206 1.312)" x="-3.30" y="3.75" font-size="11.29" font-family='"Liberation Sans", sans-serif' fill="#262626" stroke="#262626" stroke-width="0.076">~</text></g>
<text x="0" y="0" font-size="10.6" text-anchor="middle" font-family='"Liberation Serif", serif' fill="#262626" stroke="#262626" stroke-width="0.12" transform="translate(303.00 86.00) rotate(-90)">Lifetime (ns)</text>
<g transform="translate(10.45 15.29)"><text transform="scale(0.8303 1)" x="0.50 7.34 18.76" y="0" font-size="15.23" font-family='"Liberation Sans", sans-serif' fill="#262626" stroke="#262626" stroke-width="0.060">(a)</text></g>
<g transform="translate(283.55 15.99)"><text transform="scale(0.9111 1)" x="0.19 7.14 17.26" y="0" font-size="15.23" font-family='"Liberation Sans", sans-serif' fill="#262626" stroke="#262626" stroke-width="0.055">(b)</text></g>
<g transform="translate(10.45 176.89)"><text transform="scale(0.8726 1)" x="0.33 7.07 16.70" y="0" font-size="15.23" font-family='"Liberation Sans", sans-serif' fill="#262626" stroke="#262626" stroke-width="0.057">(c)</text></g>
<g transform="translate(286.35 179.49)"><text transform="scale(0.9106 1)" x="0.19 6.92 17.27" y="0" font-size="15.23" font-family='"Liberation Sans", sans-serif' fill="#262626" stroke="#262626" stroke-width="0.055">(d)</text></g>
<path d="M63.00,254.93 L129.20,250.01 L195.40,179.71 L261.60,214.86" fill="none" stroke="#d65353" stroke-width="1.4"/>
<circle cx="63.00" cy="254.93" r="3.4" fill="#d65353"/>
<circle cx="129.20" cy="250.01" r="3.4" fill="#d65353"/>
<circle cx="195.40" cy="179.71" r="3.4" fill="#d65353"/>
<circle cx="261.60" cy="214.86" r="3.4" fill="#d65353"/>
<path d="M63.00,267.59 L129.20,252.82 L195.40,200.80 L261.60,228.92" fill="none" stroke="#4fdc86" stroke-width="1.4"/>
<path d="M66.50,267.59 L59.50,264.09 L59.50,271.09Z" fill="#4fdc86"/>
<path d="M132.70,252.82 L125.70,249.32 L125.70,256.32Z" fill="#4fdc86"/>
<path d="M198.90,200.80 L191.90,197.30 L191.90,204.30Z" fill="#4fdc86"/>
<path d="M265.10,228.92 L258.10,225.42 L258.10,232.42Z" fill="#4fdc86"/>
<path d="M63.00,267.59 L129.20,257.04 L195.40,207.83 L261.60,235.95" fill="none" stroke="#8a8af0" stroke-width="1.4"/>
<rect x="59.60" y="264.19" width="6.80" height="6.80" fill="#8a8af0"/>
<rect x="125.80" y="253.64" width="6.80" height="6.80" fill="#8a8af0"/>
<rect x="192.00" y="204.43" width="6.80" height="6.80" fill="#8a8af0"/>
<rect x="258.20" y="232.55" width="6.80" height="6.80" fill="#8a8af0"/>
<rect x="53.30" y="175.20" width="218.60" height="96.80" fill="none" stroke="#606060" stroke-width="1.0"/>
<line x1="50.80" y1="271.10" x2="53.30" y2="271.10" stroke="#606060" stroke-width="1.0" />
<g transform="translate(22.00 275.05)"><text transform="scale(0.9939 1)" x="0.29 6.73 10.17 16.60" y="0" font-size="10.82" font-family='"Liberation Sans", sans-serif' fill="#262626" stroke="#262626" stroke-width="0.101">0.0%</text></g>
<line x1="50.80" y1="235.95" x2="53.30" y2="235.95" stroke="#606060" stroke-width="1.0" />
<g transform="translate(22.00 239.90)"><text transform="scale(0.9796 1)" x="0.29 6.85 10.37 16.91" y="0" font-size="10.82" font-family='"Liberation Sans", sans-serif' fill="#262626" stroke="#262626" stroke-width="0.102">5.0%</text></g>
<line x1="50.80" y1="200.80" x2="53.30" y2="200.80" stroke="#606060" stroke-width="1.0" />
<g transform="translate(15.45 204.75)"><text transform="scale(0.9874 1)" x="0.25 6.95 13.42 16.90 23.38" y="0" font-size="10.82" font-family='"Liberation Sans", sans-serif' fill="#262626" stroke="#262626" stroke-width="0.101">10.0%</text></g>
<line x1="63.00" y1="272.00" x2="63.00" y2="274.50" stroke="#606060" stroke-width="1.0" />
<line x1="129.20" y1="272.00" x2="129.20" y2="274.50" stroke="#606060" stroke-width="1.0" />
<line x1="195.40" y1="272.00" x2="195.40" y2="274.50" stroke="#606060" stroke-width="1.0" />
<line x1="261.60" y1="272.00" x2="261.60" y2="274.50" stroke="#606060" stroke-width="1.0" />
<g transform="translate(11.45 235.26) rotate(-90)"><text transform="scale(0.9020 1)" x="0.31 8.22 11.09 18.35" y="0" font-size="10.82" font-family='"Liberation Sans", sans-serif' fill="#262626" stroke="#262626" stroke-width="0.111">Bias</text></g>
<rect x="57.6" y="179.0" width="85.80000000000001" height="44.599999999999994" rx="2" fill="#ffffff" fill-opacity="0.85" stroke="#dcdcdc" stroke-width="0.8"/>
<line x1="60.40" y1="186.80" x2="80.00" y2="186.80" stroke="#d65353" stroke-width="1.5" />
<circle cx="70.20" cy="186.80" r="3.4" fill="#d65353"/>
<g transform="translate(87.00 190.50)"><text transform="scale(0.9447 1)" x="-0.17 6.17 13.28 23.28 29.53 43.74 49.73" y="0" font-size="9.83" font-family='"Liberation Sans", sans-serif' fill="#262626" stroke="#262626" stroke-width="0.106">SNR2032</text><text transform="translate(37.19 -2.85) scale(1.173 1.276)" x="-2.87" y="3.26" font-size="9.83" font-family='"Liberation Sans", sans-serif' fill="#262626" stroke="#262626" stroke-width="0.078">~</text></g>
<line x1="60.40" y1="200.30" x2="80.00" y2="200.30" stroke="#4fdc86" stroke-width="1.5" />
<path d="M73.70,200.30 L66.70,196.80 L66.70,203.80Z" fill="#4fdc86"/>
<g transform="translate(87.00 203.90)"><text transform="scale(0.9455 1)" x="-0.17 6.16 13.26 23.40 29.38 43.71 49.82" y="0" font-size="9.83" font-family='"Liberation Sans", sans-serif' fill="#262626" stroke="#262626" stroke-width="0.106">SNR3238</text><text transform="translate(37.19 -2.85) scale(1.173 1.276)" x="-2.87" y="3.26" font-size="9.83" font-family='"Liberation Sans", sans-serif' fill="#262626" stroke="#262626" stroke-width="0.078">~</text></g>
<line x1="60.40" y1="213.80" x2="80.00" y2="213.80" stroke="#8a8af0" stroke-width="1.5" />
<rect x="66.80" y="210.40" width="6.80" height="6.80" fill="#8a8af0"/>
<g transform="translate(87.00 217.40)"><text transform="scale(0.9542 1)" x="-0.20 6.07 13.11 23.16 29.21 43.27 49.34" y="0" font-size="9.83" font-family='"Liberation Sans", sans-serif' fill="#262626" stroke="#262626" stroke-width="0.105">SNR3840</text><text transform="translate(37.19 -2.85) scale(1.173 1.276)" x="-2.87" y="3.26" font-size="9.83" font-family='"Liberation Sans", sans-serif' fill="#262626" stroke="#262626" stroke-width="0.078">~</text></g>
<path d="M63.00,295.82 L129.20,295.82 L195.40,295.82 L261.60,339.96" fill="none" stroke="#d65353" stroke-width="1.4"/>
<circle cx="63.00" cy="295.82" r="3.4" fill="#d65353"/>
<circle cx="129.20" cy="295.82" r="3.4" fill="#d65353"/>
<circle cx="195.40" cy="295.82" r="3.4" fill="#d65353"/>
<circle cx="261.60" cy="339.96" r="3.4" fill="#d65353"/>
<path d="M63.00,339.96 L129.20,339.96 L195.40,339.96 L261.60,362.03" fill="none" stroke="#4fdc86" stroke-width="1.4"/>
<path d="M66.50,339.96 L59.50,336.46 L59.50,343.46Z" fill="#4fdc86"/>
<path d="M132.70,339.96 L125.70,336.46 L125.70,343.46Z" fill="#4fdc86"/>
<path d="M198.90,339.96 L191.90,336.46 L191.90,343.46Z" fill="#4fdc86"/>
<path d="M265.10,362.03 L258.10,358.53 L258.10,365.53Z" fill="#4fdc86"/>
<path d="M63.00,384.10 L129.20,362.03 L195.40,384.10 L261.60,384.10" fill="none" stroke="#8a8af0" stroke-width="1.4"/>
<rect x="59.60" y="380.70" width="6.80" height="6.80" fill="#8a8af0"/>
<rect x="125.80" y="358.63" width="6.80" height="6.80" fill="#8a8af0"/>
<rect x="192.00" y="380.70" width="6.80" height="6.80" fill="#8a8af0"/>
<rect x="258.20" y="380.70" width="6.80" height="6.80" fill="#8a8af0"/>
<rect x="53.30" y="291.40" width="218.60" height="96.90" fill="none" stroke="#606060" stroke-width="1.0"/>
<line x1="50.80" y1="384.10" x2="53.30" y2="384.10" stroke="#606060" stroke-width="1.0" />
<g transform="translate(25.50 388.05)"><text transform="scale(0.9947 1)" x="0.28 6.73 10.16 16.62" y="0" font-size="10.82" font-family='"Liberation Sans", sans-serif' fill="#262626" stroke="#262626" stroke-width="0.101">0.02</text></g>
<line x1="50.80" y1="339.96" x2="53.30" y2="339.96" stroke="#606060" stroke-width="1.0" />
<g transform="translate(25.04 343.91)"><text transform="scale(1.0056 1)" x="0.25 6.64 10.02 16.54" y="0" font-size="10.82" font-family='"Liberation Sans", sans-serif' fill="#262626" stroke="#262626" stroke-width="0.099">0.04</text></g>
<line x1="50.80" y1="295.82" x2="53.30" y2="295.82" stroke="#606060" stroke-width="1.0" />
<g transform="translate(25.12 299.77)"><text transform="scale(1.0163 1)" x="0.21 6.55 9.88 16.33" y="0" font-size="10.82" font-family='"Liberation Sans", sans-serif' fill="#262626" stroke="#262626" stroke-width="0.098">0.06</text></g>
<line x1="63.00" y1="388.30" x2="63.00" y2="390.80" stroke="#606060" stroke-width="1.0" />
<line x1="129.20" y1="388.30" x2="129.20" y2="390.80" stroke="#606060" stroke-width="1.0" />
<line x1="195.40" y1="388.30" x2="195.40" y2="390.80" stroke="#606060" stroke-width="1.0" />
<line x1="261.60" y1="388.30" x2="261.60" y2="390.80" stroke="#606060" stroke-width="1.0" />
<g transform="translate(21.05 348.83) rotate(-90)"><text transform="scale(0.9989 1)" x="-0.28 7.04 10.79" y="0" font-size="10.82" font-family='"Liberation Sans", sans-serif' fill="#262626" stroke="#262626" stroke-width="0.100">Std</text></g>
<path d="M337.80,250.86 L403.60,244.61 L469.40,182.08 L535.10,194.59" fill="none" stroke="#d65353" stroke-width="1.4"/>
<circle cx="337.80" cy="250.86" r="3.4" fill="#d65353"/>
<circle cx="403.60" cy="244.61" r="3.4" fill="#d65353"/>
<circle cx="469.40" cy="182.08" r="3.4" fill="#d65353"/>
<circle cx="535.10" cy="194.59" r="3.4" fill="#d65353"/>
<path d="M337.80,257.12 L403.60,250.86 L469.40,213.35 L535.10,230.23" fill="none" stroke="#4fdc86" stroke-width="1.4"/>
<path d="M341.30,257.12 L334.30,253.62 L334.30,260.62Z" fill="#4fdc86"/>
<path d="M407.10,250.86 L400.10,247.36 L400.10,254.36Z" fill="#4fdc86"/>
<path d="M472.90,213.35 L465.90,209.85 L465.90,216.85Z" fill="#4fdc86"/>
<path d="M538.60,230.23 L531.60,226.73 L531.60,233.73Z" fill="#4fdc86"/>
<path d="M337.80,269.62 L403.60,257.12 L469.40,225.85 L535.10,242.74" fill="none" stroke="#8a8af0" stroke-width="1.4"/>
<rect x="334.40" y="266.22" width="6.80" height="6.80" fill="#8a8af0"/>
<rect x="400.20" y="253.72" width="6.80" height="6.80" fill="#8a8af0"/>
<rect x="466.00" y="222.45" width="6.80" height="6.80" fill="#8a8af0"/>
<rect x="531.70" y="239.34" width="6.80" height="6.80" fill="#8a8af0"/>
<rect x="327.90" y="177.70" width="217.10" height="96.30" fill="none" stroke="#606060" stroke-width="1.0"/>
<line x1="325.40" y1="250.86" x2="327.90" y2="250.86" stroke="#606060" stroke-width="1.0" />
<g transform="translate(297.00 254.81)"><text transform="scale(0.9796 1)" x="0.29 6.85 10.37 16.91" y="0" font-size="10.82" font-family='"Liberation Sans", sans-serif' fill="#262626" stroke="#262626" stroke-width="0.102">5.0%</text></g>
<line x1="325.40" y1="219.60" x2="327.90" y2="219.60" stroke="#606060" stroke-width="1.0" />
<g transform="translate(290.45 223.55)"><text transform="scale(0.9874 1)" x="0.25 6.95 13.42 16.90 23.38" y="0" font-size="10.82" font-family='"Liberation Sans", sans-serif' fill="#262626" stroke="#262626" stroke-width="0.101">10.0%</text></g>
<line x1="325.40" y1="188.33" x2="327.90" y2="188.33" stroke="#606060" stroke-width="1.0" />
<g transform="translate(290.45 192.28)"><text transform="scale(0.9757 1)" x="0.30 7.02 13.60 17.14 23.71" y="0" font-size="10.82" font-family='"Liberation Sans", sans-serif' fill="#262626" stroke="#262626" stroke-width="0.102">15.0%</text></g>
<line x1="337.80" y1="274.00" x2="337.80" y2="276.50" stroke="#606060" stroke-width="1.0" />
<line x1="403.60" y1="274.00" x2="403.60" y2="276.50" stroke="#606060" stroke-width="1.0" />
<line x1="469.40" y1="274.00" x2="469.40" y2="276.50" stroke="#606060" stroke-width="1.0" />
<line x1="535.10" y1="274.00" x2="535.10" y2="276.50" stroke="#606060" stroke-width="1.0" />
<g transform="translate(286.45 238.36) rotate(-90)"><text transform="scale(0.9020 1)" x="0.31 8.22 11.09 18.35" y="0" font-size="10.82" font-family='"Liberation Sans", sans-serif' fill="#262626" stroke="#262626" stroke-width="0.111">Bias</text></g>
<rect x="332.5" y="182.2" width="84.5" height="43.0" rx="2" fill="#ffffff" fill-opacity="0.85" stroke="#dcdcdc" stroke-width="0.8"/>
<line x1="335.40" y1="189.80" x2="355.00" y2="189.80" stroke="#d65353" stroke-width="1.5" />
<circle cx="345.20" cy="189.80" r="3.4" fill="#d65353"/>
<g transform="translate(361.60 193.10)"><text transform="scale(0.9447 1)" x="-0.17 6.17 13.28 23.28 29.53 43.74 49.73" y="0" font-size="9.83" font-family='"Liberation Sans", sans-serif' fill="#262626" stroke="#262626" stroke-width="0.106">SNR2032</text><text transform="translate(37.19 -2.85) scale(1.173 1.276)" x="-2.87" y="3.26" font-size="9.83" font-family='"Liberation Sans", sans-serif' fill="#262626" stroke="#262626" stroke-width="0.078">~</text></g>
<line x1="335.40" y1="203.20" x2="355.00" y2="203.20" stroke="#4fdc86" stroke-width="1.5" />
<path d="M348.70,203.20 L341.70,199.70 L341.70,206.70Z" fill="#4fdc86"/>
<g transform="translate(361.60 206.60)"><text transform="scale(0.9455 1)" x="-0.17 6.16 13.26 23.40 29.38 43.71 49.82" y="0" font-size="9.83" font-family='"Liberation Sans", sans-serif' fill="#262626" stroke="#262626" stroke-width="0.106">SNR3238</text><text transform="translate(37.19 -2.85) scale(1.173 1.276)" x="-2.87" y="3.26" font-size="9.83" font-family='"Liberation Sans", sans-serif' fill="#262626" stroke="#262626" stroke-width="0.078">~</text></g>
<line x1="335.40" y1="216.40" x2="355.00" y2="216.40" stroke="#8a8af0" stroke-width="1.5" />
<rect x="341.80" y="213.00" width="6.80" height="6.80" fill="#8a8af0"/>
<g transform="translate(361.60 220.10)"><text transform="scale(0.9542 1)" x="-0.20 6.07 13.11 23.16 29.21 43.27 49.34" y="0" font-size="9.83" font-family='"Liberation Sans", sans-serif' fill="#262626" stroke="#262626" stroke-width="0.105">SNR3840</text><text transform="translate(37.19 -2.85) scale(1.173 1.276)" x="-2.87" y="3.26" font-size="9.83" font-family='"Liberation Sans", sans-serif' fill="#262626" stroke="#262626" stroke-width="0.078">~</text></g>
<path d="M337.80,331.22 L403.60,341.29 L469.40,334.58 L535.10,297.65" fill="none" stroke="#d65353" stroke-width="1.4"/>
<circle cx="337.80" cy="331.22" r="3.4" fill="#d65353"/>
<circle cx="403.60" cy="341.29" r="3.4" fill="#d65353"/>
<circle cx="469.40" cy="334.58" r="3.4" fill="#d65353"/>
<circle cx="535.10" cy="297.65" r="3.4" fill="#d65353"/>
<path d="M337.80,364.79 L403.60,371.51 L469.40,368.15 L535.10,348.01" fill="none" stroke="#4fdc86" stroke-width="1.4"/>
<path d="M341.30,364.79 L334.30,361.29 L334.30,368.29Z" fill="#4fdc86"/>
<path d="M407.10,371.51 L400.10,368.01 L400.10,375.01Z" fill="#4fdc86"/>
<path d="M472.90,368.15 L465.90,364.65 L465.90,371.65Z" fill="#4fdc86"/>
<path d="M538.60,348.01 L531.60,344.51 L531.60,351.51Z" fill="#4fdc86"/>
<path d="M337.80,378.22 L403.60,384.94 L469.40,381.58 L535.10,368.15" fill="none" stroke="#8a8af0" stroke-width="1.4"/>
<rect x="334.40" y="374.82" width="6.80" height="6.80" fill="#8a8af0"/>
<rect x="400.20" y="381.54" width="6.80" height="6.80" fill="#8a8af0"/>
<rect x="466.00" y="378.18" width="6.80" height="6.80" fill="#8a8af0"/>
<rect x="531.70" y="364.75" width="6.80" height="6.80" fill="#8a8af0"/>
<rect x="327.90" y="293.30" width="217.10" height="96.00" fill="none" stroke="#606060" stroke-width="1.0"/>
<line x1="325.40" y1="384.94" x2="327.90" y2="384.94" stroke="#606060" stroke-width="1.0" />
<g transform="translate(307.17 388.89)"><text transform="scale(0.9871 1)" x="0.31 6.79 10.21" y="0" font-size="10.82" font-family='"Liberation Sans", sans-serif' fill="#262626" stroke="#262626" stroke-width="0.101">0.1</text></g>
<line x1="325.40" y1="351.37" x2="327.90" y2="351.37" stroke="#606060" stroke-width="1.0" />
<g transform="translate(307.25 355.32)"><text transform="scale(0.9903 1)" x="0.30 6.76 10.08" y="0" font-size="10.82" font-family='"Liberation Sans", sans-serif' fill="#262626" stroke="#262626" stroke-width="0.101">0.2</text></g>
<line x1="325.40" y1="317.80" x2="327.90" y2="317.80" stroke="#606060" stroke-width="1.0" />
<g transform="translate(307.04 321.75)"><text transform="scale(0.9883 1)" x="0.31 6.78 10.26" y="0" font-size="10.82" font-family='"Liberation Sans", sans-serif' fill="#262626" stroke="#262626" stroke-width="0.101">0.3</text></g>
<line x1="337.80" y1="389.30" x2="337.80" y2="391.80" stroke="#606060" stroke-width="1.0" />
<line x1="403.60" y1="389.30" x2="403.60" y2="391.80" stroke="#606060" stroke-width="1.0" />
<line x1="469.40" y1="389.30" x2="469.40" y2="391.80" stroke="#606060" stroke-width="1.0" />
<line x1="535.10" y1="389.30" x2="535.10" y2="391.80" stroke="#606060" stroke-width="1.0" />
<g transform="translate(302.65 350.43) rotate(-90)"><text transform="scale(0.9989 1)" x="-0.28 7.04 10.79" y="0" font-size="10.82" font-family='"Liberation Sans", sans-serif' fill="#262626" stroke="#262626" stroke-width="0.100">Std</text></g>
<g transform="translate(38.45 410.17) rotate(-10)"><text transform="scale(0.9813 1)" x="0.03 9.37 14.92 21.67 31.14 34.24 40.43 47.34" y="0" font-size="11.03" font-family='"Liberation Sans", sans-serif' fill="#262626" stroke="#262626" stroke-width="0.102">MLPMixer</text></g>
<g transform="translate(111.19 407.66) rotate(-10)"><text transform="scale(0.9401 1)" x="0.43 7.45 15.56 23.70 32.05" y="0" font-size="11.03" font-family='"Liberation Sans", sans-serif' fill="#262626" stroke="#262626" stroke-width="0.106">1DCNN</text></g>
<g transform="translate(181.57 406.21) rotate(-10)"><text transform="scale(0.9275 1)" x="0.25 8.81 14.75 22.26" y="0" font-size="11.03" font-family='"Liberation Sans", sans-serif' fill="#262626" stroke="#262626" stroke-width="0.108">NLSM</text></g>
<g transform="translate(251.61 404.88) rotate(-10)"><text transform="scale(0.9249 1)" x="0.20 7.71 14.92" y="0" font-size="11.03" font-family='"Liberation Sans", sans-serif' fill="#262626" stroke="#262626" stroke-width="0.108">VPM</text></g>
<g transform="translate(313.25 410.97) rotate(-10)"><text transform="scale(0.9813 1)" x="0.03 9.37 14.92 21.67 31.14 34.24 40.43 47.34" y="0" font-size="11.03" font-family='"Liberation Sans", sans-serif' fill="#262626" stroke="#262626" stroke-width="0.102">MLPMixer</text></g>
<g transform="translate(385.59 408.46) rotate(-10)"><text transform="scale(0.9401 1)" x="0.43 7.45 15.56 23.70 32.05" y="0" font-size="11.03" font-family='"Liberation Sans", sans-serif' fill="#262626" stroke="#262626" stroke-width="0.106">1DCNN</text></g>
<g transform="translate(455.57 407.01) rotate(-10)"><text transform="scale(0.9275 1)" x="0.25 8.81 14.75 22.26" y="0" font-size="11.03" font-family='"Liberation Sans", sans-serif' fill="#262626" stroke="#262626" stroke-width="0.108">NLSM</text></g>
<g transform="translate(525.11 405.68) rotate(-10)"><text transform="scale(0.9249 1)" x="0.20 7.71 14.92" y="0" font-size="11.03" font-family='"Liberation Sans", sans-serif' fill="#262626" stroke="#262626" stroke-width="0.108">VPM</text></g>
<g transform="translate(139.95 422.40)"><text transform="scale(1.0150 1)" x="-0.12 8.89 15.46 19.19 25.51 31.77 38.07" y="0" font-size="10.82" font-family='"Liberation Sans", sans-serif' fill="#262626" stroke="#262626" stroke-width="0.099">Methods</text></g>
<g transform="translate(414.55 423.20)"><text transform="scale(1.0150 1)" x="-0.12 8.89 15.46 19.19 25.51 31.77 38.07" y="0" font-size="10.82" font-family='"Liberation Sans", sans-serif' fill="#262626" stroke="#262626" stroke-width="0.099">Methods</text></g>
</svg></body></html>
